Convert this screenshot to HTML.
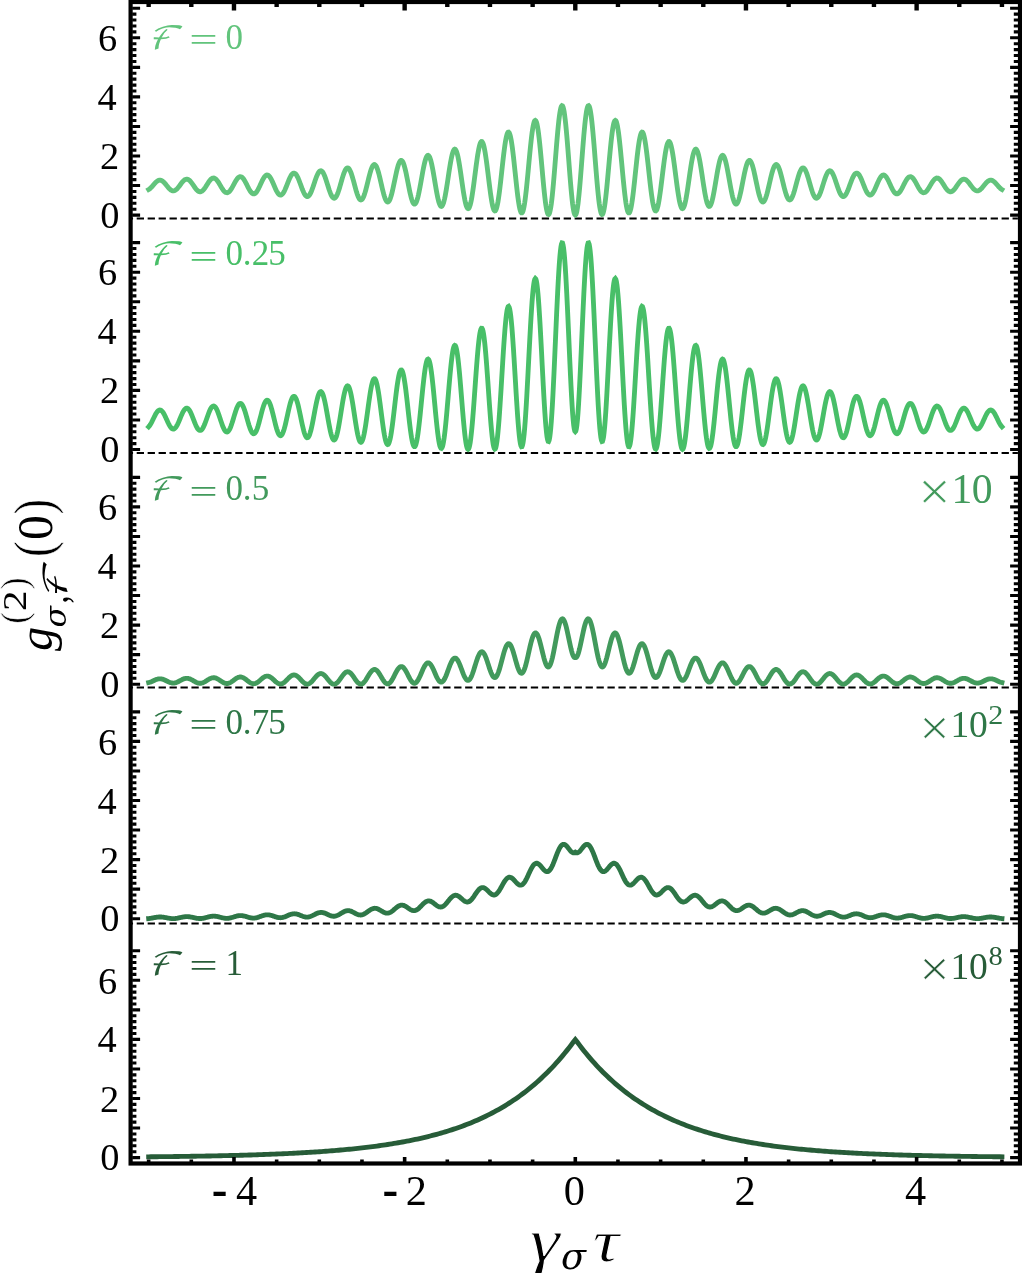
<!DOCTYPE html>
<html><head><meta charset="utf-8"><title>g2 correlations</title>
<style>html,body{margin:0;padding:0;background:#fff}svg{display:block}</style></head>
<body>
<svg width="1022" height="1273" viewBox="0 0 1022 1273">
<rect width="1022" height="1273" fill="#fff"/>
<line x1="129.4" y1="218.5" x2="1017.9" y2="218.5" stroke="#000" stroke-width="2" stroke-dasharray="7.3 3.648" stroke-dashoffset="3.648"/>
<line x1="129.4" y1="453.1" x2="1017.9" y2="453.1" stroke="#000" stroke-width="2" stroke-dasharray="7.3 3.648" stroke-dashoffset="3.648"/>
<line x1="129.4" y1="687.55" x2="1017.9" y2="687.55" stroke="#000" stroke-width="2" stroke-dasharray="7.3 3.648" stroke-dashoffset="3.648"/>
<line x1="129.4" y1="923.4" x2="1017.9" y2="923.4" stroke="#000" stroke-width="2" stroke-dasharray="7.3 3.648" stroke-dashoffset="3.648"/>
<polyline fill="none" stroke="#62c47c" stroke-width="4.85" stroke-linejoin="miter" stroke-linecap="square" points="148.65,189.53 149.18,189.21 149.72,188.82 150.25,188.37 150.78,187.87 151.32,187.33 151.85,186.76 152.38,186.16 152.92,185.54 153.45,184.91 153.98,184.29 154.52,183.69 155.05,183.10 155.58,182.54 156.12,182.03 156.65,181.56 157.18,181.15 157.72,180.80 158.25,180.53 158.78,180.32 159.32,180.19 159.85,180.14 160.38,180.18 160.92,180.29 161.45,180.48 161.98,180.75 162.52,181.09 163.05,181.50 163.58,181.98 164.12,182.51 164.65,183.08 165.18,183.70 165.72,184.34 166.25,185.00 166.78,185.67 167.32,186.34 167.85,187.00 168.38,187.64 168.92,188.24 169.45,188.80 169.98,189.31 170.52,189.76 171.05,190.14 171.58,190.45 172.12,190.68 172.65,190.82 173.18,190.89 173.72,190.86 174.25,190.75 174.78,190.55 175.32,190.26 175.85,189.90 176.38,189.46 176.92,188.95 177.45,188.38 177.98,187.76 178.52,187.10 179.05,186.41 179.58,185.69 180.12,184.96 180.65,184.23 181.18,183.51 181.72,182.82 182.25,182.16 182.78,181.54 183.32,180.98 183.85,180.48 184.38,180.05 184.92,179.70 185.45,179.44 185.98,179.27 186.52,179.18 187.05,179.20 187.58,179.30 188.12,179.50 188.65,179.80 189.18,180.17 189.72,180.63 190.25,181.17 190.78,181.77 191.31,182.43 191.85,183.14 192.38,183.88 192.91,184.65 193.45,185.44 193.98,186.22 194.51,187.00 195.05,187.75 195.58,188.46 196.11,189.13 196.65,189.74 197.18,190.29 197.71,190.76 198.25,191.14 198.78,191.44 199.31,191.63 199.85,191.73 200.38,191.73 200.91,191.62 201.45,191.41 201.98,191.11 202.51,190.70 203.05,190.21 203.58,189.64 204.11,188.99 204.65,188.28 205.18,187.52 205.71,186.71 206.25,185.88 206.78,185.03 207.31,184.17 207.85,183.33 208.38,182.51 208.91,181.72 209.45,180.99 209.98,180.31 210.51,179.71 211.05,179.18 211.58,178.75 212.11,178.41 212.65,178.18 213.18,178.05 213.71,178.04 214.25,178.13 214.78,178.34 215.31,178.65 215.85,179.07 216.38,179.58 216.91,180.19 217.45,180.87 217.98,181.62 218.51,182.44 219.05,183.30 219.58,184.19 220.11,185.11 220.65,186.03 221.18,186.94 221.71,187.82 222.25,188.67 222.78,189.47 223.31,190.21 223.85,190.87 224.38,191.44 224.91,191.91 225.45,192.29 225.98,192.55 226.51,192.69 227.05,192.72 227.58,192.63 228.11,192.41 228.65,192.08 229.18,191.64 229.71,191.09 230.25,190.45 230.78,189.71 231.31,188.90 231.85,188.02 232.38,187.09 232.91,186.12 233.45,185.13 233.98,184.13 234.51,183.13 235.05,182.16 235.58,181.23 236.11,180.35 236.65,179.54 237.18,178.81 237.71,178.17 238.25,177.63 238.78,177.21 239.31,176.90 239.85,176.72 240.38,176.67 240.91,176.75 241.45,176.95 241.98,177.28 242.51,177.74 243.05,178.31 243.58,178.99 244.11,179.76 244.65,180.63 245.18,181.56 245.71,182.55 246.25,183.59 246.78,184.65 247.31,185.73 247.85,186.80 248.38,187.84 248.91,188.85 249.45,189.80 249.98,190.68 250.51,191.48 251.05,192.18 251.58,192.76 252.11,193.23 252.65,193.57 253.18,193.78 253.71,193.84 254.25,193.77 254.78,193.56 255.31,193.21 255.85,192.73 256.38,192.12 256.91,191.39 257.45,190.55 257.98,189.63 258.51,188.62 259.05,187.54 259.58,186.42 260.11,185.26 260.65,184.09 261.18,182.92 261.71,181.77 262.25,180.67 262.78,179.62 263.31,178.65 263.85,177.77 264.38,176.99 264.91,176.33 265.45,175.79 265.98,175.40 266.51,175.15 267.05,175.04 267.58,175.09 268.11,175.29 268.65,175.64 269.18,176.14 269.71,176.77 270.25,177.53 270.78,178.41 271.31,179.39 271.85,180.46 272.38,181.61 272.91,182.81 273.45,184.04 273.98,185.30 274.51,186.55 275.05,187.79 275.58,188.98 276.11,190.11 276.64,191.16 277.18,192.12 277.71,192.97 278.24,193.69 278.78,194.27 279.31,194.71 279.84,194.99 280.38,195.11 280.91,195.07 281.44,194.87 281.98,194.50 282.51,193.97 283.04,193.30 283.58,192.48 284.11,191.54 284.64,190.48 285.18,189.32 285.71,188.07 286.24,186.77 286.78,185.42 287.31,184.06 287.84,182.69 288.38,181.34 288.91,180.03 289.44,178.78 289.98,177.62 290.51,176.55 291.04,175.61 291.58,174.80 292.11,174.13 292.64,173.62 293.18,173.28 293.71,173.11 294.24,173.12 294.78,173.31 295.31,173.67 295.84,174.20 296.38,174.90 296.91,175.75 297.44,176.74 297.98,177.86 298.51,179.09 299.04,180.40 299.58,181.79 300.11,183.23 300.64,184.69 301.18,186.16 301.71,187.61 302.24,189.02 302.78,190.36 303.31,191.62 303.84,192.77 304.38,193.80 304.91,194.68 305.44,195.41 305.98,195.97 306.51,196.35 307.04,196.54 307.58,196.54 308.11,196.35 308.64,195.96 309.18,195.40 309.71,194.65 310.24,193.74 310.78,192.67 311.31,191.46 311.84,190.13 312.38,188.70 312.91,187.19 313.44,185.63 313.98,184.03 314.51,182.42 315.04,180.83 315.58,179.28 316.11,177.80 316.64,176.41 317.18,175.13 317.71,173.99 318.24,172.99 318.78,172.16 319.31,171.52 319.84,171.07 320.38,170.81 320.91,170.77 321.44,170.93 321.98,171.30 322.51,171.87 323.04,172.63 323.58,173.58 324.11,174.69 324.64,175.96 325.18,177.36 325.71,178.88 326.24,180.48 326.78,182.15 327.31,183.86 327.84,185.58 328.38,187.28 328.91,188.94 329.44,190.53 329.98,192.03 330.51,193.41 331.04,194.65 331.58,195.73 332.11,196.63 332.64,197.34 333.18,197.83 333.71,198.11 334.24,198.17 334.78,198.01 335.31,197.62 335.84,197.01 336.38,196.19 336.91,195.17 337.44,193.96 337.98,192.59 338.51,191.07 339.04,189.42 339.58,187.68 340.11,185.86 340.64,183.99 341.18,182.11 341.71,180.24 342.24,178.41 342.78,176.65 343.31,174.99 343.84,173.46 344.38,172.07 344.91,170.86 345.44,169.83 345.98,169.02 346.51,168.43 347.04,168.07 347.58,167.95 348.11,168.07 348.64,168.43 349.18,169.04 349.71,169.87 350.24,170.92 350.78,172.17 351.31,173.61 351.84,175.21 352.38,176.95 352.91,178.80 353.44,180.73 353.98,182.72 354.51,184.72 355.04,186.72 355.58,188.68 356.11,190.57 356.64,192.35 357.18,194.00 357.71,195.50 358.24,196.81 358.78,197.92 359.31,198.80 359.84,199.45 360.38,199.84 360.91,199.98 361.44,199.85 361.97,199.46 362.51,198.82 363.04,197.92 363.57,196.78 364.11,195.43 364.64,193.87 365.17,192.13 365.71,190.24 366.24,188.22 366.77,186.11 367.31,183.93 367.84,181.73 368.37,179.53 368.91,177.38 369.44,175.29 369.97,173.31 370.51,171.47 371.04,169.80 371.57,168.32 372.11,167.06 372.64,166.04 373.17,165.27 373.71,164.77 374.24,164.56 374.77,164.62 375.31,164.97 375.84,165.60 376.37,166.50 376.91,167.66 377.44,169.06 377.97,170.69 378.51,172.51 379.04,174.50 379.57,176.63 380.11,178.87 380.64,181.17 381.17,183.52 381.71,185.86 382.24,188.17 382.77,190.40 383.31,192.51 383.84,194.49 384.37,196.29 384.91,197.88 385.44,199.24 385.97,200.34 386.51,201.17 387.04,201.71 387.57,201.95 388.11,201.88 388.64,201.50 389.17,200.82 389.71,199.84 390.24,198.58 390.77,197.06 391.31,195.29 391.84,193.30 392.37,191.13 392.91,188.80 393.44,186.36 393.97,183.83 394.51,181.25 395.04,178.67 395.57,176.13 396.11,173.66 396.64,171.30 397.17,169.10 397.71,167.09 398.24,165.29 398.77,163.74 399.31,162.46 399.84,161.48 400.37,160.81 400.91,160.46 401.44,160.45 401.97,160.77 402.51,161.41 403.04,162.38 403.57,163.66 404.11,165.22 404.64,167.05 405.17,169.12 405.71,171.40 406.24,173.84 406.77,176.43 407.31,179.11 407.84,181.84 408.37,184.58 408.91,187.29 409.44,189.92 409.97,192.44 410.51,194.79 411.04,196.95 411.57,198.88 412.11,200.54 412.64,201.91 413.17,202.96 413.71,203.68 414.24,204.04 414.77,204.05 415.31,203.70 415.84,203.00 416.37,201.94 416.91,200.55 417.44,198.84 417.97,196.84 418.51,194.58 419.04,192.09 419.57,189.40 420.11,186.57 420.64,183.62 421.17,180.62 421.71,177.59 422.24,174.59 422.77,171.67 423.31,168.87 423.84,166.24 424.37,163.81 424.91,161.64 425.44,159.74 425.97,158.15 426.51,156.90 427.04,156.02 427.57,155.51 428.11,155.38 428.64,155.64 429.17,156.29 429.71,157.32 430.24,158.72 430.77,160.45 431.31,162.51 431.84,164.86 432.37,167.46 432.91,170.27 433.44,173.25 433.97,176.35 434.51,179.53 435.04,182.74 435.57,185.92 436.11,189.02 436.64,192.00 437.17,194.80 437.71,197.39 438.24,199.71 438.77,201.74 439.31,203.43 439.84,204.75 440.37,205.69 440.91,206.23 441.44,206.35 441.97,206.04 442.51,205.32 443.04,204.18 443.57,202.65 444.11,200.74 444.64,198.49 445.17,195.91 445.71,193.06 446.24,189.97 446.77,186.69 447.30,183.26 447.84,179.75 448.37,176.21 448.90,172.68 449.44,169.23 449.97,165.90 450.50,162.76 451.04,159.84 451.57,157.21 452.10,154.89 452.64,152.93 453.17,151.35 453.70,150.19 454.24,149.47 454.77,149.20 455.30,149.38 455.84,150.01 456.37,151.09 456.90,152.61 457.44,154.53 457.97,156.83 458.50,159.49 459.04,162.44 459.57,165.67 460.10,169.10 460.64,172.69 461.17,176.39 461.70,180.13 462.24,183.85 462.77,187.51 463.30,191.03 463.84,194.36 464.37,197.46 464.90,200.25 465.44,202.71 465.97,204.79 466.50,206.45 467.04,207.66 467.57,208.41 468.10,208.67 468.64,208.44 469.17,207.72 469.70,206.51 470.24,204.83 470.77,202.70 471.30,200.16 471.84,197.23 472.37,193.96 472.90,190.41 473.44,186.61 473.97,182.64 474.50,178.54 475.04,174.39 475.57,170.24 476.10,166.17 476.64,162.22 477.17,158.47 477.70,154.98 478.24,151.79 478.77,148.97 479.30,146.55 479.84,144.57 480.37,143.08 480.90,142.09 481.44,141.62 481.97,141.68 482.50,142.27 483.04,143.39 483.57,145.02 484.10,147.14 484.64,149.71 485.17,152.70 485.70,156.06 486.24,159.74 486.77,163.69 487.30,167.84 487.84,172.13 488.37,176.49 488.90,180.85 489.44,185.15 489.97,189.31 490.50,193.26 491.04,196.95 491.57,200.31 492.10,203.29 492.64,205.83 493.17,207.90 493.70,209.45 494.24,210.46 494.77,210.91 495.30,210.78 495.84,210.07 496.37,208.80 496.90,206.97 497.44,204.60 497.97,201.74 498.50,198.42 499.04,194.69 499.57,190.60 500.10,186.22 500.64,181.61 501.17,176.83 501.70,171.97 502.24,167.10 502.77,162.29 503.30,157.61 503.84,153.15 504.37,148.96 504.90,145.12 505.44,141.68 505.97,138.71 506.50,136.25 507.04,134.33 507.57,133.00 508.10,132.28 508.64,132.17 509.17,132.69 509.70,133.82 510.24,135.56 510.77,137.87 511.30,140.73 511.84,144.09 512.37,147.91 512.90,152.11 513.44,156.64 513.97,161.43 514.50,166.40 515.04,171.47 515.57,176.57 516.10,181.61 516.64,186.51 517.17,191.20 517.70,195.59 518.24,199.62 518.77,203.21 519.30,206.32 519.84,208.87 520.37,210.84 520.90,212.18 521.44,212.86 521.97,212.88 522.50,212.22 523.04,210.88 523.57,208.90 524.10,206.28 524.64,203.07 525.17,199.30 525.70,195.04 526.24,190.35 526.77,185.29 527.30,179.94 527.84,174.38 528.37,168.70 528.90,162.98 529.44,157.30 529.97,151.77 530.50,146.45 531.04,141.44 531.57,136.82 532.10,132.65 532.63,129.01 533.17,125.94 533.70,123.51 534.23,121.76 534.77,120.70 535.30,120.36 535.83,120.76 536.37,121.88 536.90,123.71 537.43,126.23 537.97,129.39 538.50,133.15 539.03,137.46 539.57,142.25 540.10,147.44 540.63,152.95 541.17,158.70 541.70,164.60 542.23,170.55 542.77,176.45 543.30,182.22 543.83,187.76 544.37,192.99 544.90,197.80 545.43,202.13 545.97,205.90 546.50,209.05 547.03,211.51 547.57,213.26 548.10,214.25 548.63,214.45 549.17,213.87 549.70,212.50 550.23,210.36 550.77,207.47 551.30,203.87 551.83,199.61 552.37,194.75 552.90,189.36 553.43,183.53 553.97,177.33 554.50,170.86 555.03,164.22 555.57,157.51 556.10,150.82 556.63,144.27 557.17,137.95 557.70,131.96 558.23,126.40 558.77,121.35 559.30,116.90 559.83,113.10 560.37,110.04 560.90,107.74 561.43,106.26 561.97,105.62 562.50,105.84 563.03,106.90 563.57,108.80 564.10,111.51 564.63,114.99 565.17,119.19 565.70,124.05 566.23,129.49 566.77,135.42 567.30,141.75 567.83,148.39 568.37,155.23 568.90,162.16 569.43,169.07 569.97,175.85 570.50,182.39 571.03,188.58 571.57,194.33 572.10,199.53 572.63,204.09 573.17,207.95 573.70,211.03 574.23,213.27 574.77,214.64 575.30,215.10 575.83,214.64 576.37,213.27 576.90,211.03 577.43,207.95 577.97,204.09 578.50,199.53 579.03,194.33 579.57,188.58 580.10,182.39 580.63,175.85 581.17,169.07 581.70,162.16 582.23,155.23 582.77,148.39 583.30,141.75 583.83,135.42 584.37,129.49 584.90,124.05 585.43,119.19 585.97,114.99 586.50,111.51 587.03,108.80 587.57,106.90 588.10,105.84 588.63,105.62 589.17,106.26 589.70,107.74 590.23,110.04 590.77,113.10 591.30,116.90 591.83,121.35 592.37,126.40 592.90,131.96 593.43,137.95 593.97,144.27 594.50,150.82 595.03,157.51 595.57,164.22 596.10,170.86 596.63,177.33 597.17,183.53 597.70,189.36 598.23,194.75 598.77,199.61 599.30,203.87 599.83,207.47 600.37,210.36 600.90,212.50 601.43,213.87 601.97,214.45 602.50,214.25 603.03,213.26 603.57,211.51 604.10,209.05 604.63,205.90 605.17,202.13 605.70,197.80 606.23,192.99 606.77,187.76 607.30,182.22 607.83,176.45 608.37,170.55 608.90,164.60 609.43,158.70 609.97,152.95 610.50,147.44 611.03,142.25 611.57,137.46 612.10,133.15 612.63,129.39 613.17,126.23 613.70,123.71 614.23,121.88 614.77,120.76 615.30,120.36 615.83,120.70 616.37,121.76 616.90,123.51 617.43,125.94 617.96,129.01 618.50,132.65 619.03,136.82 619.56,141.44 620.10,146.45 620.63,151.77 621.16,157.30 621.70,162.98 622.23,168.70 622.76,174.38 623.30,179.94 623.83,185.29 624.36,190.35 624.90,195.04 625.43,199.30 625.96,203.07 626.50,206.28 627.03,208.90 627.56,210.88 628.10,212.22 628.63,212.88 629.16,212.86 629.70,212.18 630.23,210.84 630.76,208.87 631.30,206.32 631.83,203.21 632.36,199.62 632.90,195.59 633.43,191.20 633.96,186.51 634.50,181.61 635.03,176.57 635.56,171.47 636.10,166.40 636.63,161.43 637.16,156.64 637.70,152.11 638.23,147.91 638.76,144.09 639.30,140.73 639.83,137.87 640.36,135.56 640.90,133.82 641.43,132.69 641.96,132.17 642.50,132.28 643.03,133.00 643.56,134.33 644.10,136.25 644.63,138.71 645.16,141.68 645.70,145.12 646.23,148.96 646.76,153.15 647.30,157.61 647.83,162.29 648.36,167.10 648.90,171.97 649.43,176.83 649.96,181.61 650.50,186.22 651.03,190.60 651.56,194.69 652.10,198.42 652.63,201.74 653.16,204.60 653.70,206.97 654.23,208.80 654.76,210.07 655.30,210.78 655.83,210.91 656.36,210.46 656.90,209.45 657.43,207.90 657.96,205.83 658.50,203.29 659.03,200.31 659.56,196.95 660.10,193.26 660.63,189.31 661.16,185.15 661.70,180.85 662.23,176.49 662.76,172.13 663.30,167.84 663.83,163.69 664.36,159.74 664.90,156.06 665.43,152.70 665.96,149.71 666.50,147.14 667.03,145.02 667.56,143.39 668.10,142.27 668.63,141.68 669.16,141.62 669.70,142.09 670.23,143.08 670.76,144.57 671.30,146.55 671.83,148.97 672.36,151.79 672.90,154.98 673.43,158.47 673.96,162.22 674.50,166.17 675.03,170.24 675.56,174.39 676.10,178.54 676.63,182.64 677.16,186.61 677.70,190.41 678.23,193.96 678.76,197.23 679.30,200.16 679.83,202.70 680.36,204.83 680.90,206.51 681.43,207.72 681.96,208.44 682.50,208.67 683.03,208.41 683.56,207.66 684.10,206.45 684.63,204.79 685.16,202.71 685.70,200.25 686.23,197.46 686.76,194.36 687.30,191.03 687.83,187.51 688.36,183.85 688.90,180.13 689.43,176.39 689.96,172.69 690.50,169.10 691.03,165.67 691.56,162.44 692.10,159.49 692.63,156.83 693.16,154.53 693.70,152.61 694.23,151.09 694.76,150.01 695.30,149.38 695.83,149.20 696.36,149.47 696.90,150.19 697.43,151.35 697.96,152.93 698.50,154.89 699.03,157.21 699.56,159.84 700.10,162.76 700.63,165.90 701.16,169.23 701.70,172.68 702.23,176.21 702.76,179.75 703.29,183.26 703.83,186.69 704.36,189.97 704.89,193.06 705.43,195.91 705.96,198.49 706.49,200.74 707.03,202.65 707.56,204.18 708.09,205.32 708.63,206.04 709.16,206.35 709.69,206.23 710.23,205.69 710.76,204.75 711.29,203.43 711.83,201.74 712.36,199.71 712.89,197.39 713.43,194.80 713.96,192.00 714.49,189.02 715.03,185.92 715.56,182.74 716.09,179.53 716.63,176.35 717.16,173.25 717.69,170.27 718.23,167.46 718.76,164.86 719.29,162.51 719.83,160.45 720.36,158.72 720.89,157.32 721.43,156.29 721.96,155.64 722.49,155.38 723.03,155.51 723.56,156.02 724.09,156.90 724.63,158.15 725.16,159.74 725.69,161.64 726.23,163.81 726.76,166.24 727.29,168.87 727.83,171.67 728.36,174.59 728.89,177.59 729.43,180.62 729.96,183.62 730.49,186.57 731.03,189.40 731.56,192.09 732.09,194.58 732.63,196.84 733.16,198.84 733.69,200.55 734.23,201.94 734.76,203.00 735.29,203.70 735.83,204.05 736.36,204.04 736.89,203.68 737.43,202.96 737.96,201.91 738.49,200.54 739.03,198.88 739.56,196.95 740.09,194.79 740.63,192.44 741.16,189.92 741.69,187.29 742.23,184.58 742.76,181.84 743.29,179.11 743.83,176.43 744.36,173.84 744.89,171.40 745.43,169.12 745.96,167.05 746.49,165.22 747.03,163.66 747.56,162.38 748.09,161.41 748.63,160.77 749.16,160.45 749.69,160.46 750.23,160.81 750.76,161.48 751.29,162.46 751.83,163.74 752.36,165.29 752.89,167.09 753.43,169.10 753.96,171.30 754.49,173.66 755.03,176.13 755.56,178.67 756.09,181.25 756.63,183.83 757.16,186.36 757.69,188.80 758.23,191.13 758.76,193.30 759.29,195.29 759.83,197.06 760.36,198.58 760.89,199.84 761.43,200.82 761.96,201.50 762.49,201.88 763.03,201.95 763.56,201.71 764.09,201.17 764.63,200.34 765.16,199.24 765.69,197.88 766.23,196.29 766.76,194.49 767.29,192.51 767.83,190.40 768.36,188.17 768.89,185.86 769.43,183.52 769.96,181.17 770.49,178.87 771.03,176.63 771.56,174.50 772.09,172.51 772.63,170.69 773.16,169.06 773.69,167.66 774.23,166.50 774.76,165.60 775.29,164.97 775.83,164.62 776.36,164.56 776.89,164.77 777.43,165.27 777.96,166.04 778.49,167.06 779.03,168.32 779.56,169.80 780.09,171.47 780.63,173.31 781.16,175.29 781.69,177.38 782.23,179.53 782.76,181.73 783.29,183.93 783.83,186.11 784.36,188.22 784.89,190.24 785.43,192.13 785.96,193.87 786.49,195.43 787.03,196.78 787.56,197.92 788.09,198.82 788.62,199.46 789.16,199.85 789.69,199.98 790.22,199.84 790.76,199.45 791.29,198.80 791.82,197.92 792.36,196.81 792.89,195.50 793.42,194.00 793.96,192.35 794.49,190.57 795.02,188.68 795.56,186.72 796.09,184.72 796.62,182.72 797.16,180.73 797.69,178.80 798.22,176.95 798.76,175.21 799.29,173.61 799.82,172.17 800.36,170.92 800.89,169.87 801.42,169.04 801.96,168.43 802.49,168.07 803.02,167.95 803.56,168.07 804.09,168.43 804.62,169.02 805.16,169.83 805.69,170.86 806.22,172.07 806.76,173.46 807.29,174.99 807.82,176.65 808.36,178.41 808.89,180.24 809.42,182.11 809.96,183.99 810.49,185.86 811.02,187.68 811.56,189.42 812.09,191.07 812.62,192.59 813.16,193.96 813.69,195.17 814.22,196.19 814.76,197.01 815.29,197.62 815.82,198.01 816.36,198.17 816.89,198.11 817.42,197.83 817.96,197.34 818.49,196.63 819.02,195.73 819.56,194.65 820.09,193.41 820.62,192.03 821.16,190.53 821.69,188.94 822.22,187.28 822.76,185.58 823.29,183.86 823.82,182.15 824.36,180.48 824.89,178.88 825.42,177.36 825.96,175.96 826.49,174.69 827.02,173.58 827.56,172.63 828.09,171.87 828.62,171.30 829.16,170.93 829.69,170.77 830.22,170.81 830.76,171.07 831.29,171.52 831.82,172.16 832.36,172.99 832.89,173.99 833.42,175.13 833.96,176.41 834.49,177.80 835.02,179.28 835.56,180.83 836.09,182.42 836.62,184.03 837.16,185.63 837.69,187.19 838.22,188.70 838.76,190.13 839.29,191.46 839.82,192.67 840.36,193.74 840.89,194.65 841.42,195.40 841.96,195.96 842.49,196.35 843.02,196.54 843.56,196.54 844.09,196.35 844.62,195.97 845.16,195.41 845.69,194.68 846.22,193.80 846.76,192.77 847.29,191.62 847.82,190.36 848.36,189.02 848.89,187.61 849.42,186.16 849.96,184.69 850.49,183.23 851.02,181.79 851.56,180.40 852.09,179.09 852.62,177.86 853.16,176.74 853.69,175.75 854.22,174.90 854.76,174.20 855.29,173.67 855.82,173.31 856.36,173.12 856.89,173.11 857.42,173.28 857.96,173.62 858.49,174.13 859.02,174.80 859.56,175.61 860.09,176.55 860.62,177.62 861.16,178.78 861.69,180.03 862.22,181.34 862.76,182.69 863.29,184.06 863.82,185.42 864.36,186.77 864.89,188.07 865.42,189.32 865.96,190.48 866.49,191.54 867.02,192.48 867.56,193.30 868.09,193.97 868.62,194.50 869.16,194.87 869.69,195.07 870.22,195.11 870.76,194.99 871.29,194.71 871.82,194.27 872.36,193.69 872.89,192.97 873.42,192.12 873.95,191.16 874.49,190.11 875.02,188.98 875.55,187.79 876.09,186.55 876.62,185.30 877.15,184.04 877.69,182.81 878.22,181.61 878.75,180.46 879.29,179.39 879.82,178.41 880.35,177.53 880.89,176.77 881.42,176.14 881.95,175.64 882.49,175.29 883.02,175.09 883.55,175.04 884.09,175.15 884.62,175.40 885.15,175.79 885.69,176.33 886.22,176.99 886.75,177.77 887.29,178.65 887.82,179.62 888.35,180.67 888.89,181.77 889.42,182.92 889.95,184.09 890.49,185.26 891.02,186.42 891.55,187.54 892.09,188.62 892.62,189.63 893.15,190.55 893.69,191.39 894.22,192.12 894.75,192.73 895.29,193.21 895.82,193.56 896.35,193.77 896.89,193.84 897.42,193.78 897.95,193.57 898.49,193.23 899.02,192.76 899.55,192.18 900.09,191.48 900.62,190.68 901.15,189.80 901.69,188.85 902.22,187.84 902.75,186.80 903.29,185.73 903.82,184.65 904.35,183.59 904.89,182.55 905.42,181.56 905.95,180.63 906.49,179.76 907.02,178.99 907.55,178.31 908.09,177.74 908.62,177.28 909.15,176.95 909.69,176.75 910.22,176.67 910.75,176.72 911.29,176.90 911.82,177.21 912.35,177.63 912.89,178.17 913.42,178.81 913.95,179.54 914.49,180.35 915.02,181.23 915.55,182.16 916.09,183.13 916.62,184.13 917.15,185.13 917.69,186.12 918.22,187.09 918.75,188.02 919.29,188.90 919.82,189.71 920.35,190.45 920.89,191.09 921.42,191.64 921.95,192.08 922.49,192.41 923.02,192.63 923.55,192.72 924.09,192.69 924.62,192.55 925.15,192.29 925.69,191.91 926.22,191.44 926.75,190.87 927.29,190.21 927.82,189.47 928.35,188.67 928.89,187.82 929.42,186.94 929.95,186.03 930.49,185.11 931.02,184.19 931.55,183.30 932.09,182.44 932.62,181.62 933.15,180.87 933.69,180.19 934.22,179.58 934.75,179.07 935.29,178.65 935.82,178.34 936.35,178.13 936.89,178.04 937.42,178.05 937.95,178.18 938.49,178.41 939.02,178.75 939.55,179.18 940.09,179.71 940.62,180.31 941.15,180.99 941.69,181.72 942.22,182.51 942.75,183.33 943.29,184.17 943.82,185.03 944.35,185.88 944.89,186.71 945.42,187.52 945.95,188.28 946.49,188.99 947.02,189.64 947.55,190.21 948.09,190.70 948.62,191.11 949.15,191.41 949.69,191.62 950.22,191.73 950.75,191.73 951.29,191.63 951.82,191.44 952.35,191.14 952.89,190.76 953.42,190.29 953.95,189.74 954.49,189.13 955.02,188.46 955.55,187.75 956.09,187.00 956.62,186.22 957.15,185.44 957.69,184.65 958.22,183.88 958.75,183.14 959.28,182.43 959.82,181.77 960.35,181.17 960.88,180.63 961.42,180.17 961.95,179.80 962.48,179.50 963.02,179.30 963.55,179.20 964.08,179.18 964.62,179.27 965.15,179.44 965.68,179.70 966.22,180.05 966.75,180.48 967.28,180.98 967.82,181.54 968.35,182.16 968.88,182.82 969.42,183.51 969.95,184.23 970.48,184.96 971.02,185.69 971.55,186.41 972.08,187.10 972.62,187.76 973.15,188.38 973.68,188.95 974.22,189.46 974.75,189.90 975.28,190.26 975.82,190.55 976.35,190.75 976.88,190.86 977.42,190.89 977.95,190.82 978.48,190.68 979.02,190.45 979.55,190.14 980.08,189.76 980.62,189.31 981.15,188.80 981.68,188.24 982.22,187.64 982.75,187.00 983.28,186.34 983.82,185.67 984.35,185.00 984.88,184.34 985.42,183.70 985.95,183.08 986.48,182.51 987.02,181.98 987.55,181.50 988.08,181.09 988.62,180.75 989.15,180.48 989.68,180.29 990.22,180.18 990.75,180.14 991.28,180.19 991.82,180.32 992.35,180.53 992.88,180.80 993.42,181.15 993.95,181.56 994.48,182.03 995.02,182.54 995.55,183.10 996.08,183.69 996.62,184.29 997.15,184.91 997.68,185.54 998.22,186.16 998.75,186.76 999.28,187.33 999.82,187.87 1000.35,188.37 1000.88,188.82 1001.42,189.21 1001.95,189.53"/>
<polyline fill="none" stroke="#48bf68" stroke-width="4.85" stroke-linejoin="miter" stroke-linecap="square" points="148.65,426.76 149.18,426.17 149.72,425.48 150.25,424.68 150.78,423.79 151.32,422.83 151.85,421.81 152.38,420.74 152.92,419.64 153.45,418.53 153.98,417.42 154.52,416.34 155.05,415.30 155.58,414.31 156.12,413.39 156.65,412.56 157.18,411.83 157.72,411.21 158.25,410.71 158.78,410.34 159.32,410.11 159.85,410.02 160.38,410.08 160.92,410.28 161.45,410.62 161.98,411.10 162.52,411.70 163.05,412.43 163.58,413.27 164.12,414.21 164.65,415.23 165.18,416.32 165.72,417.46 166.25,418.64 166.78,419.83 167.32,421.02 167.85,422.18 168.38,423.31 168.92,424.38 169.45,425.38 169.98,426.28 170.52,427.07 171.05,427.75 171.58,428.30 172.12,428.70 172.65,428.96 173.18,429.07 173.72,429.02 174.25,428.81 174.78,428.46 175.32,427.95 175.85,427.30 176.38,426.52 176.92,425.61 177.45,424.60 177.98,423.50 178.52,422.32 179.05,421.08 179.58,419.80 180.12,418.50 180.65,417.20 181.18,415.92 181.72,414.69 182.25,413.51 182.78,412.41 183.32,411.41 183.85,410.52 184.38,409.76 184.92,409.14 185.45,408.67 185.98,408.35 186.52,408.20 187.05,408.22 187.58,408.41 188.12,408.76 188.65,409.28 189.18,409.95 189.72,410.77 190.25,411.71 190.78,412.78 191.31,413.95 191.85,415.21 192.38,416.53 192.91,417.89 193.45,419.28 193.98,420.68 194.51,422.05 195.05,423.38 195.58,424.65 196.11,425.84 196.65,426.92 197.18,427.89 197.71,428.72 198.25,429.40 198.78,429.92 199.31,430.27 199.85,430.44 200.38,430.43 200.91,430.23 201.45,429.86 201.98,429.31 202.51,428.60 203.05,427.72 203.58,426.70 204.11,425.55 204.65,424.28 205.18,422.92 205.71,421.48 206.25,420.00 206.78,418.48 207.31,416.96 207.85,415.45 208.38,413.99 208.91,412.59 209.45,411.27 209.98,410.07 210.51,408.99 211.05,408.06 211.58,407.28 212.11,406.68 212.65,406.27 213.18,406.04 213.71,406.01 214.25,406.17 214.78,406.53 215.31,407.09 215.85,407.82 216.38,408.73 216.91,409.80 217.45,411.01 217.98,412.35 218.51,413.79 219.05,415.32 219.58,416.90 220.11,418.52 220.65,420.16 221.18,421.77 221.71,423.34 222.25,424.85 222.78,426.26 223.31,427.57 223.85,428.73 224.38,429.75 224.91,430.59 225.45,431.25 225.98,431.71 226.51,431.96 227.05,432.00 227.58,431.83 228.11,431.45 228.65,430.86 229.18,430.07 229.71,429.09 230.25,427.94 230.78,426.63 231.31,425.18 231.85,423.61 232.38,421.95 232.91,420.22 233.45,418.45 233.98,416.67 234.51,414.90 235.05,413.17 235.58,411.51 236.11,409.94 236.65,408.49 237.18,407.19 237.71,406.05 238.25,405.09 238.78,404.33 239.31,403.78 239.85,403.45 240.38,403.36 240.91,403.49 241.45,403.85 241.98,404.43 242.51,405.24 243.05,406.25 243.58,407.45 244.11,408.82 244.65,410.35 245.18,412.00 245.71,413.76 246.25,415.60 246.78,417.49 247.31,419.39 247.85,421.29 248.38,423.14 248.91,424.93 249.45,426.61 249.98,428.17 250.51,429.58 251.05,430.81 251.58,431.85 252.11,432.68 252.65,433.28 253.18,433.64 253.71,433.75 254.25,433.62 254.78,433.23 255.31,432.61 255.85,431.74 256.38,430.65 256.91,429.35 257.45,427.86 257.98,426.20 258.51,424.40 259.05,422.48 259.58,420.48 260.11,418.41 260.65,416.33 261.18,414.24 261.71,412.20 262.25,410.23 262.78,408.36 263.31,406.63 263.85,405.05 264.38,403.66 264.91,402.48 265.45,401.53 265.98,400.81 266.51,400.36 267.05,400.17 267.58,400.25 268.11,400.60 268.65,401.21 269.18,402.09 269.71,403.20 270.25,404.55 270.78,406.10 271.31,407.84 271.85,409.74 272.38,411.76 272.91,413.89 273.45,416.08 273.98,418.31 274.51,420.53 275.05,422.71 275.58,424.82 276.11,426.83 276.64,428.69 277.18,430.39 277.71,431.89 278.24,433.16 278.78,434.19 279.31,434.96 279.84,435.46 280.38,435.66 280.91,435.58 281.44,435.21 281.98,434.54 282.51,433.60 283.04,432.39 283.58,430.93 284.11,429.24 284.64,427.35 285.18,425.28 285.71,423.07 286.24,420.74 286.78,418.34 287.31,415.89 287.84,413.45 288.38,411.04 288.91,408.71 289.44,406.48 289.98,404.41 290.51,402.51 291.04,400.82 291.58,399.36 292.11,398.17 292.64,397.26 293.18,396.64 293.71,396.33 294.24,396.34 294.78,396.66 295.31,397.30 295.84,398.23 296.38,399.46 296.91,400.96 297.44,402.72 297.98,404.69 298.51,406.86 299.04,409.20 299.58,411.65 300.11,414.20 300.64,416.79 301.18,419.40 301.71,421.96 302.24,424.46 302.78,426.83 303.31,429.06 303.84,431.09 304.38,432.91 304.91,434.47 305.44,435.75 305.98,436.73 306.51,437.39 307.04,437.72 307.58,437.71 308.11,437.36 308.64,436.67 309.18,435.65 309.71,434.31 310.24,432.67 310.78,430.76 311.31,428.60 311.84,426.23 312.38,423.68 312.91,420.98 313.44,418.18 313.98,415.33 314.51,412.46 315.04,409.63 315.58,406.86 316.11,404.22 316.64,401.73 317.18,399.45 317.71,397.40 318.24,395.62 318.78,394.13 319.31,392.97 319.84,392.15 320.38,391.69 320.91,391.60 321.44,391.87 321.98,392.51 322.51,393.51 323.04,394.86 323.58,396.53 324.11,398.50 324.64,400.74 325.18,403.22 325.71,405.90 326.24,408.74 326.78,411.69 327.31,414.71 327.84,417.75 328.38,420.76 328.91,423.70 329.44,426.52 329.98,429.17 330.51,431.61 331.04,433.80 331.58,435.70 332.11,437.29 332.64,438.52 333.18,439.39 333.71,439.88 334.24,439.97 334.78,439.66 335.31,438.95 335.84,437.85 336.38,436.38 336.91,434.55 337.44,432.39 337.98,429.93 338.51,427.21 339.04,424.27 339.58,421.15 340.11,417.90 340.64,414.57 341.18,411.21 341.71,407.87 342.24,404.60 342.78,401.46 343.31,398.49 343.84,395.74 344.38,393.26 344.91,391.09 345.44,389.25 345.98,387.78 346.51,386.71 347.04,386.05 347.58,385.82 348.11,386.02 348.64,386.65 349.18,387.71 349.71,389.17 350.24,391.02 350.78,393.23 351.31,395.76 351.84,398.59 352.38,401.66 352.91,404.93 353.44,408.35 353.98,411.86 354.51,415.41 355.04,418.94 355.58,422.41 356.11,425.74 356.64,428.89 357.18,431.81 357.71,434.45 358.24,436.76 358.78,438.71 359.31,440.26 359.84,441.39 360.38,442.07 360.91,442.29 361.44,442.04 361.97,441.33 362.51,440.16 363.04,438.54 363.57,436.50 364.11,434.07 364.64,431.27 365.17,428.16 365.71,424.78 366.24,421.17 366.77,417.39 367.31,413.51 367.84,409.57 368.37,405.64 368.91,401.78 369.44,398.05 369.97,394.52 370.51,391.22 371.04,388.22 371.57,385.57 372.11,383.30 372.64,381.46 373.17,380.07 373.71,379.17 374.24,378.75 374.77,378.85 375.31,379.44 375.84,380.54 376.37,382.11 376.91,384.15 377.44,386.62 377.97,389.48 378.51,392.70 379.04,396.21 379.57,399.97 380.11,403.92 380.64,408.00 381.17,412.14 381.71,416.28 382.24,420.35 382.77,424.28 383.31,428.03 383.84,431.51 384.37,434.68 384.91,437.48 385.44,439.87 385.97,441.80 386.51,443.25 387.04,444.18 387.57,444.57 388.11,444.42 388.64,443.72 389.17,442.48 389.71,440.71 390.24,438.45 390.77,435.71 391.31,432.53 391.84,428.98 392.37,425.09 392.91,420.92 393.44,416.53 393.97,412.01 394.51,407.40 395.04,402.78 395.57,398.23 396.11,393.81 396.64,389.59 397.17,385.64 397.71,382.03 398.24,378.80 398.77,376.01 399.31,373.71 399.84,371.93 400.37,370.71 400.91,370.06 401.44,370.00 401.97,370.53 402.51,371.65 403.04,373.33 403.57,375.57 404.11,378.31 404.64,381.53 405.17,385.18 405.71,389.19 406.24,393.51 406.77,398.06 407.31,402.79 407.84,407.61 408.37,412.45 408.91,417.23 409.44,421.87 409.97,426.31 410.51,430.46 411.04,434.26 411.57,437.65 412.11,440.56 412.64,442.96 413.17,444.79 413.71,446.03 414.24,446.64 414.77,446.62 415.31,445.96 415.84,444.66 416.37,442.74 416.91,440.23 417.44,437.15 417.97,433.56 418.51,429.50 419.04,425.03 419.57,420.21 420.11,415.13 420.64,409.86 421.17,404.47 421.71,399.05 422.24,393.68 422.77,388.44 423.31,383.42 423.84,378.70 424.37,374.34 424.91,370.42 425.44,367.00 425.97,364.14 426.51,361.88 427.04,360.26 427.57,359.30 428.11,359.03 428.64,359.46 429.17,360.57 429.71,362.35 430.24,364.78 430.77,367.83 431.31,371.44 431.84,375.56 432.37,380.13 432.91,385.08 433.44,390.33 433.97,395.80 434.51,401.40 435.04,407.05 435.57,412.65 436.11,418.12 436.64,423.37 437.17,428.30 437.71,432.85 438.24,436.93 438.77,440.48 439.31,443.43 439.84,445.74 440.37,447.35 440.91,448.25 441.44,448.41 441.97,447.82 442.51,446.48 443.04,444.41 443.57,441.63 444.11,438.18 444.64,434.11 445.17,429.48 445.71,424.35 446.24,418.80 446.77,412.91 447.30,406.77 447.84,400.47 448.37,394.11 448.90,387.78 449.44,381.58 449.97,375.61 450.50,369.97 451.04,364.73 451.57,359.98 452.10,355.79 452.64,352.25 453.17,349.39 453.70,347.27 454.24,345.92 454.77,345.37 455.30,345.63 455.84,346.70 456.37,348.56 456.90,351.18 457.44,354.54 457.97,358.57 458.50,363.22 459.04,368.41 459.57,374.07 460.10,380.11 460.64,386.43 461.17,392.93 461.70,399.52 462.24,406.08 462.77,412.50 463.30,418.70 463.84,424.55 464.37,429.98 464.90,434.89 465.44,439.19 465.97,442.81 466.50,445.69 467.04,447.78 467.57,449.03 468.10,449.42 468.64,448.94 469.17,447.58 469.70,445.35 470.24,442.29 470.77,438.44 471.30,433.84 471.84,428.56 472.37,422.68 472.90,416.28 473.44,409.46 473.97,402.31 474.50,394.96 475.04,387.49 475.57,380.04 476.10,372.71 476.64,365.62 477.17,358.88 477.70,352.58 478.24,346.84 478.77,341.73 479.30,337.35 479.84,333.76 480.37,331.01 480.90,329.17 481.44,328.25 481.97,328.27 482.50,329.24 483.04,331.14 483.57,333.95 484.10,337.63 484.64,342.11 485.17,347.34 485.70,353.23 486.24,359.68 486.77,366.61 487.30,373.90 487.84,381.43 488.37,389.09 488.90,396.76 489.44,404.30 489.97,411.60 490.50,418.54 491.04,425.00 491.57,430.88 492.10,436.08 492.64,440.50 493.17,444.08 493.70,446.74 494.24,448.43 494.77,449.13 495.30,448.80 495.84,447.45 496.37,445.08 496.90,441.72 497.44,437.42 497.97,432.22 498.50,426.22 499.04,419.48 499.57,412.11 500.10,404.21 500.64,395.90 501.17,387.31 501.70,378.57 502.24,369.79 502.77,361.13 503.30,352.71 503.84,344.66 504.37,337.11 504.90,330.17 505.44,323.95 505.97,318.55 506.50,314.06 507.04,310.54 507.57,308.06 508.10,306.65 508.64,306.34 509.17,307.15 509.70,309.05 510.24,312.02 510.77,316.01 511.30,320.98 511.84,326.83 512.37,333.48 512.90,340.83 513.44,348.77 513.97,357.15 514.50,365.86 515.04,374.76 515.57,383.70 516.10,392.53 516.64,401.12 517.17,409.32 517.70,417.00 518.24,424.03 518.77,430.29 519.30,435.67 519.84,440.08 520.37,443.44 520.90,445.69 521.44,446.77 521.97,446.66 522.50,445.35 523.04,442.84 523.57,439.17 524.10,434.38 524.64,428.52 525.17,421.69 525.70,413.98 526.24,405.49 526.77,396.35 527.30,386.70 527.84,376.67 528.37,366.42 528.90,356.10 529.44,345.87 529.97,335.87 530.50,326.28 531.04,317.22 531.57,308.84 532.10,301.28 532.63,294.65 533.17,289.05 533.70,284.57 534.23,281.29 534.77,279.25 535.30,278.49 535.83,279.04 536.37,280.87 536.90,283.96 537.43,288.27 537.97,293.73 538.50,300.26 539.03,307.75 539.57,316.09 540.10,325.15 540.63,334.78 541.17,344.83 541.70,355.14 542.23,365.54 542.77,375.87 543.30,385.96 543.83,395.63 544.37,404.73 544.90,413.11 545.43,420.63 545.97,427.15 546.50,432.57 547.03,436.77 547.57,439.69 548.10,441.26 548.63,441.44 549.17,440.22 549.70,437.59 550.23,433.59 550.77,428.26 551.30,421.67 551.83,413.90 552.37,405.07 552.90,395.30 553.43,384.73 553.97,373.52 554.50,361.82 555.03,349.81 555.57,337.67 556.10,325.58 556.63,313.73 557.17,302.29 557.70,291.44 558.23,281.35 558.77,272.16 559.30,264.03 559.83,257.07 560.37,251.40 560.90,247.11 561.43,244.27 561.97,242.91 562.50,243.07 563.03,244.74 563.57,247.89 564.10,252.49 564.63,258.46 565.17,265.70 565.70,274.10 566.23,283.54 566.77,293.85 567.30,304.89 567.83,316.46 568.37,328.38 568.90,340.46 569.43,352.51 569.97,364.33 570.50,375.71 571.03,386.48 571.57,396.45 572.10,405.44 572.63,413.32 573.17,419.92 573.70,425.15 574.23,428.88 574.77,431.06 575.30,431.62 575.83,431.06 576.37,428.88 576.90,425.15 577.43,419.92 577.97,413.32 578.50,405.44 579.03,396.45 579.57,386.48 580.10,375.71 580.63,364.33 581.17,352.51 581.70,340.46 582.23,328.38 582.77,316.46 583.30,304.89 583.83,293.85 584.37,283.54 584.90,274.10 585.43,265.70 585.97,258.46 586.50,252.49 587.03,247.89 587.57,244.74 588.10,243.07 588.63,242.91 589.17,244.27 589.70,247.11 590.23,251.40 590.77,257.07 591.30,264.03 591.83,272.16 592.37,281.35 592.90,291.44 593.43,302.29 593.97,313.73 594.50,325.58 595.03,337.67 595.57,349.81 596.10,361.82 596.63,373.52 597.17,384.73 597.70,395.30 598.23,405.07 598.77,413.90 599.30,421.67 599.83,428.26 600.37,433.59 600.90,437.59 601.43,440.22 601.97,441.44 602.50,441.26 603.03,439.69 603.57,436.77 604.10,432.57 604.63,427.15 605.17,420.63 605.70,413.11 606.23,404.73 606.77,395.63 607.30,385.96 607.83,375.87 608.37,365.54 608.90,355.14 609.43,344.83 609.97,334.78 610.50,325.15 611.03,316.09 611.57,307.75 612.10,300.26 612.63,293.73 613.17,288.27 613.70,283.96 614.23,280.87 614.77,279.04 615.30,278.49 615.83,279.25 616.37,281.29 616.90,284.57 617.43,289.05 617.96,294.65 618.50,301.28 619.03,308.84 619.56,317.22 620.10,326.28 620.63,335.87 621.16,345.87 621.70,356.10 622.23,366.42 622.76,376.67 623.30,386.70 623.83,396.35 624.36,405.49 624.90,413.98 625.43,421.69 625.96,428.52 626.50,434.38 627.03,439.17 627.56,442.84 628.10,445.35 628.63,446.66 629.16,446.77 629.70,445.69 630.23,443.44 630.76,440.08 631.30,435.67 631.83,430.29 632.36,424.03 632.90,417.00 633.43,409.32 633.96,401.12 634.50,392.53 635.03,383.70 635.56,374.76 636.10,365.86 636.63,357.15 637.16,348.77 637.70,340.83 638.23,333.48 638.76,326.83 639.30,320.98 639.83,316.01 640.36,312.02 640.90,309.05 641.43,307.15 641.96,306.34 642.50,306.65 643.03,308.06 643.56,310.54 644.10,314.06 644.63,318.55 645.16,323.95 645.70,330.17 646.23,337.11 646.76,344.66 647.30,352.71 647.83,361.13 648.36,369.79 648.90,378.57 649.43,387.31 649.96,395.90 650.50,404.21 651.03,412.11 651.56,419.48 652.10,426.22 652.63,432.22 653.16,437.42 653.70,441.72 654.23,445.08 654.76,447.45 655.30,448.80 655.83,449.13 656.36,448.43 656.90,446.74 657.43,444.08 657.96,440.50 658.50,436.08 659.03,430.88 659.56,425.00 660.10,418.54 660.63,411.60 661.16,404.30 661.70,396.76 662.23,389.09 662.76,381.43 663.30,373.90 663.83,366.61 664.36,359.68 664.90,353.23 665.43,347.34 665.96,342.11 666.50,337.63 667.03,333.95 667.56,331.14 668.10,329.24 668.63,328.27 669.16,328.25 669.70,329.17 670.23,331.01 670.76,333.76 671.30,337.35 671.83,341.73 672.36,346.84 672.90,352.58 673.43,358.88 673.96,365.62 674.50,372.71 675.03,380.04 675.56,387.49 676.10,394.96 676.63,402.31 677.16,409.46 677.70,416.28 678.23,422.68 678.76,428.56 679.30,433.84 679.83,438.44 680.36,442.29 680.90,445.35 681.43,447.58 681.96,448.94 682.50,449.42 683.03,449.03 683.56,447.78 684.10,445.69 684.63,442.81 685.16,439.19 685.70,434.89 686.23,429.98 686.76,424.55 687.30,418.70 687.83,412.50 688.36,406.08 688.90,399.52 689.43,392.93 689.96,386.43 690.50,380.11 691.03,374.07 691.56,368.41 692.10,363.22 692.63,358.57 693.16,354.54 693.70,351.18 694.23,348.56 694.76,346.70 695.30,345.63 695.83,345.37 696.36,345.92 696.90,347.27 697.43,349.39 697.96,352.25 698.50,355.79 699.03,359.98 699.56,364.73 700.10,369.97 700.63,375.61 701.16,381.58 701.70,387.78 702.23,394.11 702.76,400.47 703.29,406.77 703.83,412.91 704.36,418.80 704.89,424.35 705.43,429.48 705.96,434.11 706.49,438.18 707.03,441.63 707.56,444.41 708.09,446.48 708.63,447.82 709.16,448.41 709.69,448.25 710.23,447.35 710.76,445.74 711.29,443.43 711.83,440.48 712.36,436.93 712.89,432.85 713.43,428.30 713.96,423.37 714.49,418.12 715.03,412.65 715.56,407.05 716.09,401.40 716.63,395.80 717.16,390.33 717.69,385.08 718.23,380.13 718.76,375.56 719.29,371.44 719.83,367.83 720.36,364.78 720.89,362.35 721.43,360.57 721.96,359.46 722.49,359.03 723.03,359.30 723.56,360.26 724.09,361.88 724.63,364.14 725.16,367.00 725.69,370.42 726.23,374.34 726.76,378.70 727.29,383.42 727.83,388.44 728.36,393.68 728.89,399.05 729.43,404.47 729.96,409.86 730.49,415.13 731.03,420.21 731.56,425.03 732.09,429.50 732.63,433.56 733.16,437.15 733.69,440.23 734.23,442.74 734.76,444.66 735.29,445.96 735.83,446.62 736.36,446.64 736.89,446.03 737.43,444.79 737.96,442.96 738.49,440.56 739.03,437.65 739.56,434.26 740.09,430.46 740.63,426.31 741.16,421.87 741.69,417.23 742.23,412.45 742.76,407.61 743.29,402.79 743.83,398.06 744.36,393.51 744.89,389.19 745.43,385.18 745.96,381.53 746.49,378.31 747.03,375.57 747.56,373.33 748.09,371.65 748.63,370.53 749.16,370.00 749.69,370.06 750.23,370.71 750.76,371.93 751.29,373.71 751.83,376.01 752.36,378.80 752.89,382.03 753.43,385.64 753.96,389.59 754.49,393.81 755.03,398.23 755.56,402.78 756.09,407.40 756.63,412.01 757.16,416.53 757.69,420.92 758.23,425.09 758.76,428.98 759.29,432.53 759.83,435.71 760.36,438.45 760.89,440.71 761.43,442.48 761.96,443.72 762.49,444.42 763.03,444.57 763.56,444.18 764.09,443.25 764.63,441.80 765.16,439.87 765.69,437.48 766.23,434.68 766.76,431.51 767.29,428.03 767.83,424.28 768.36,420.35 768.89,416.28 769.43,412.14 769.96,408.00 770.49,403.92 771.03,399.97 771.56,396.21 772.09,392.70 772.63,389.48 773.16,386.62 773.69,384.15 774.23,382.11 774.76,380.54 775.29,379.44 775.83,378.85 776.36,378.75 776.89,379.17 777.43,380.07 777.96,381.46 778.49,383.30 779.03,385.57 779.56,388.22 780.09,391.22 780.63,394.52 781.16,398.05 781.69,401.78 782.23,405.64 782.76,409.57 783.29,413.51 783.83,417.39 784.36,421.17 784.89,424.78 785.43,428.16 785.96,431.27 786.49,434.07 787.03,436.50 787.56,438.54 788.09,440.16 788.62,441.33 789.16,442.04 789.69,442.29 790.22,442.07 790.76,441.39 791.29,440.26 791.82,438.71 792.36,436.76 792.89,434.45 793.42,431.81 793.96,428.89 794.49,425.74 795.02,422.41 795.56,418.94 796.09,415.41 796.62,411.86 797.16,408.35 797.69,404.93 798.22,401.66 798.76,398.59 799.29,395.76 799.82,393.23 800.36,391.02 800.89,389.17 801.42,387.71 801.96,386.65 802.49,386.02 803.02,385.82 803.56,386.05 804.09,386.71 804.62,387.78 805.16,389.25 805.69,391.09 806.22,393.26 806.76,395.74 807.29,398.49 807.82,401.46 808.36,404.60 808.89,407.87 809.42,411.21 809.96,414.57 810.49,417.90 811.02,421.15 811.56,424.27 812.09,427.21 812.62,429.93 813.16,432.39 813.69,434.55 814.22,436.38 814.76,437.85 815.29,438.95 815.82,439.66 816.36,439.97 816.89,439.88 817.42,439.39 817.96,438.52 818.49,437.29 819.02,435.70 819.56,433.80 820.09,431.61 820.62,429.17 821.16,426.52 821.69,423.70 822.22,420.76 822.76,417.75 823.29,414.71 823.82,411.69 824.36,408.74 824.89,405.90 825.42,403.22 825.96,400.74 826.49,398.50 827.02,396.53 827.56,394.86 828.09,393.51 828.62,392.51 829.16,391.87 829.69,391.60 830.22,391.69 830.76,392.15 831.29,392.97 831.82,394.13 832.36,395.62 832.89,397.40 833.42,399.45 833.96,401.73 834.49,404.22 835.02,406.86 835.56,409.63 836.09,412.46 836.62,415.33 837.16,418.18 837.69,420.98 838.22,423.68 838.76,426.23 839.29,428.60 839.82,430.76 840.36,432.67 840.89,434.31 841.42,435.65 841.96,436.67 842.49,437.36 843.02,437.71 843.56,437.72 844.09,437.39 844.62,436.73 845.16,435.75 845.69,434.47 846.22,432.91 846.76,431.09 847.29,429.06 847.82,426.83 848.36,424.46 848.89,421.96 849.42,419.40 849.96,416.79 850.49,414.20 851.02,411.65 851.56,409.20 852.09,406.86 852.62,404.69 853.16,402.72 853.69,400.96 854.22,399.46 854.76,398.23 855.29,397.30 855.82,396.66 856.36,396.34 856.89,396.33 857.42,396.64 857.96,397.26 858.49,398.17 859.02,399.36 859.56,400.82 860.09,402.51 860.62,404.41 861.16,406.48 861.69,408.71 862.22,411.04 862.76,413.45 863.29,415.89 863.82,418.34 864.36,420.74 864.89,423.07 865.42,425.28 865.96,427.35 866.49,429.24 867.02,430.93 867.56,432.39 868.09,433.60 868.62,434.54 869.16,435.21 869.69,435.58 870.22,435.66 870.76,435.46 871.29,434.96 871.82,434.19 872.36,433.16 872.89,431.89 873.42,430.39 873.95,428.69 874.49,426.83 875.02,424.82 875.55,422.71 876.09,420.53 876.62,418.31 877.15,416.08 877.69,413.89 878.22,411.76 878.75,409.74 879.29,407.84 879.82,406.10 880.35,404.55 880.89,403.20 881.42,402.09 881.95,401.21 882.49,400.60 883.02,400.25 883.55,400.17 884.09,400.36 884.62,400.81 885.15,401.53 885.69,402.48 886.22,403.66 886.75,405.05 887.29,406.63 887.82,408.36 888.35,410.23 888.89,412.20 889.42,414.24 889.95,416.33 890.49,418.41 891.02,420.48 891.55,422.48 892.09,424.40 892.62,426.20 893.15,427.86 893.69,429.35 894.22,430.65 894.75,431.74 895.29,432.61 895.82,433.23 896.35,433.62 896.89,433.75 897.42,433.64 897.95,433.28 898.49,432.68 899.02,431.85 899.55,430.81 900.09,429.58 900.62,428.17 901.15,426.61 901.69,424.93 902.22,423.14 902.75,421.29 903.29,419.39 903.82,417.49 904.35,415.60 904.89,413.76 905.42,412.00 905.95,410.35 906.49,408.82 907.02,407.45 907.55,406.25 908.09,405.24 908.62,404.43 909.15,403.85 909.69,403.49 910.22,403.36 910.75,403.45 911.29,403.78 911.82,404.33 912.35,405.09 912.89,406.05 913.42,407.19 913.95,408.49 914.49,409.94 915.02,411.51 915.55,413.17 916.09,414.90 916.62,416.67 917.15,418.45 917.69,420.22 918.22,421.95 918.75,423.61 919.29,425.18 919.82,426.63 920.35,427.94 920.89,429.09 921.42,430.07 921.95,430.86 922.49,431.45 923.02,431.83 923.55,432.00 924.09,431.96 924.62,431.71 925.15,431.25 925.69,430.59 926.22,429.75 926.75,428.73 927.29,427.57 927.82,426.26 928.35,424.85 928.89,423.34 929.42,421.77 929.95,420.16 930.49,418.52 931.02,416.90 931.55,415.32 932.09,413.79 932.62,412.35 933.15,411.01 933.69,409.80 934.22,408.73 934.75,407.82 935.29,407.09 935.82,406.53 936.35,406.17 936.89,406.01 937.42,406.04 937.95,406.27 938.49,406.68 939.02,407.28 939.55,408.06 940.09,408.99 940.62,410.07 941.15,411.27 941.69,412.59 942.22,413.99 942.75,415.45 943.29,416.96 943.82,418.48 944.35,420.00 944.89,421.48 945.42,422.92 945.95,424.28 946.49,425.55 947.02,426.70 947.55,427.72 948.09,428.60 948.62,429.31 949.15,429.86 949.69,430.23 950.22,430.43 950.75,430.44 951.29,430.27 951.82,429.92 952.35,429.40 952.89,428.72 953.42,427.89 953.95,426.92 954.49,425.84 955.02,424.65 955.55,423.38 956.09,422.05 956.62,420.68 957.15,419.28 957.69,417.89 958.22,416.53 958.75,415.21 959.28,413.95 959.82,412.78 960.35,411.71 960.88,410.77 961.42,409.95 961.95,409.28 962.48,408.76 963.02,408.41 963.55,408.22 964.08,408.20 964.62,408.35 965.15,408.67 965.68,409.14 966.22,409.76 966.75,410.52 967.28,411.41 967.82,412.41 968.35,413.51 968.88,414.69 969.42,415.92 969.95,417.20 970.48,418.50 971.02,419.80 971.55,421.08 972.08,422.32 972.62,423.50 973.15,424.60 973.68,425.61 974.22,426.52 974.75,427.30 975.28,427.95 975.82,428.46 976.35,428.81 976.88,429.02 977.42,429.07 977.95,428.96 978.48,428.70 979.02,428.30 979.55,427.75 980.08,427.07 980.62,426.28 981.15,425.38 981.68,424.38 982.22,423.31 982.75,422.18 983.28,421.02 983.82,419.83 984.35,418.64 984.88,417.46 985.42,416.32 985.95,415.23 986.48,414.21 987.02,413.27 987.55,412.43 988.08,411.70 988.62,411.10 989.15,410.62 989.68,410.28 990.22,410.08 990.75,410.02 991.28,410.11 991.82,410.34 992.35,410.71 992.88,411.21 993.42,411.83 993.95,412.56 994.48,413.39 995.02,414.31 995.55,415.30 996.08,416.34 996.62,417.42 997.15,418.53 997.68,419.64 998.22,420.74 998.75,421.81 999.28,422.83 999.82,423.79 1000.35,424.68 1000.88,425.48 1001.42,426.17 1001.95,426.76"/>
<polyline fill="none" stroke="#429a5c" stroke-width="4.85" stroke-linejoin="miter" stroke-linecap="square" points="148.65,682.60 149.18,682.47 149.72,682.31 150.25,682.13 150.78,681.93 151.32,681.71 151.85,681.48 152.38,681.24 152.92,680.99 153.45,680.74 153.98,680.49 154.52,680.24 155.05,680.01 155.58,679.78 156.12,679.58 156.65,679.39 157.18,679.22 157.72,679.08 158.25,678.97 158.78,678.88 159.32,678.83 159.85,678.81 160.38,678.82 160.92,678.86 161.45,678.94 161.98,679.05 162.52,679.18 163.05,679.34 163.58,679.53 164.12,679.74 164.65,679.97 165.18,680.21 165.72,680.47 166.25,680.73 166.78,681.00 167.32,681.26 167.85,681.53 168.38,681.78 168.92,682.02 169.45,682.24 169.98,682.44 170.52,682.62 171.05,682.77 171.58,682.89 172.12,682.98 172.65,683.04 173.18,683.06 173.72,683.05 174.25,683.00 174.78,682.92 175.32,682.80 175.85,682.66 176.38,682.48 176.92,682.27 177.45,682.04 177.98,681.79 178.52,681.53 179.05,681.25 179.58,680.96 180.12,680.66 180.65,680.37 181.18,680.08 181.72,679.80 182.25,679.53 182.78,679.29 183.32,679.06 183.85,678.86 184.38,678.68 184.92,678.54 185.45,678.43 185.98,678.36 186.52,678.33 187.05,678.33 187.58,678.37 188.12,678.45 188.65,678.56 189.18,678.71 189.72,678.89 190.25,679.10 190.78,679.34 191.31,679.60 191.85,679.88 192.38,680.18 192.91,680.48 193.45,680.80 193.98,681.11 194.51,681.41 195.05,681.71 195.58,682.00 196.11,682.26 196.65,682.50 197.18,682.72 197.71,682.90 198.25,683.05 198.78,683.17 199.31,683.25 199.85,683.28 200.38,683.28 200.91,683.23 201.45,683.15 201.98,683.02 202.51,682.86 203.05,682.66 203.58,682.43 204.11,682.16 204.65,681.88 205.18,681.57 205.71,681.24 206.25,680.91 206.78,680.56 207.31,680.22 207.85,679.88 208.38,679.55 208.91,679.23 209.45,678.93 209.98,678.66 210.51,678.41 211.05,678.20 211.58,678.03 212.11,677.89 212.65,677.79 213.18,677.74 213.71,677.73 214.25,677.76 214.78,677.84 215.31,677.96 215.85,678.13 216.38,678.33 216.91,678.57 217.45,678.84 217.98,679.14 218.51,679.46 219.05,679.80 219.58,680.15 220.11,680.52 220.65,680.88 221.18,681.24 221.71,681.59 222.25,681.93 222.78,682.24 223.31,682.53 223.85,682.79 224.38,683.02 224.91,683.21 225.45,683.35 225.98,683.45 226.51,683.51 227.05,683.51 227.58,683.47 228.11,683.38 228.65,683.25 229.18,683.07 229.71,682.84 230.25,682.58 230.78,682.28 231.31,681.96 231.85,681.60 232.38,681.22 232.91,680.83 233.45,680.43 233.98,680.03 234.51,679.62 235.05,679.23 235.58,678.86 236.11,678.50 236.65,678.17 237.18,677.87 237.71,677.61 238.25,677.40 238.78,677.22 239.31,677.09 239.85,677.02 240.38,676.99 240.91,677.02 241.45,677.10 241.98,677.23 242.51,677.40 243.05,677.63 243.58,677.89 244.11,678.20 244.65,678.54 245.18,678.91 245.71,679.30 246.25,679.71 246.78,680.13 247.31,680.56 247.85,680.98 248.38,681.39 248.91,681.79 249.45,682.17 249.98,682.51 250.51,682.83 251.05,683.10 251.58,683.33 252.11,683.51 252.65,683.65 253.18,683.72 253.71,683.74 254.25,683.71 254.78,683.62 255.31,683.47 255.85,683.28 256.38,683.03 256.91,682.73 257.45,682.39 257.98,682.01 258.51,681.61 259.05,681.17 259.58,680.71 260.11,680.25 260.65,679.77 261.18,679.30 261.71,678.84 262.25,678.39 262.78,677.96 263.31,677.57 263.85,677.21 264.38,676.89 264.91,676.62 265.45,676.40 265.98,676.24 266.51,676.13 267.05,676.09 267.58,676.10 268.11,676.17 268.65,676.31 269.18,676.50 269.71,676.75 270.25,677.04 270.78,677.39 271.31,677.77 271.85,678.20 272.38,678.65 272.91,679.12 273.45,679.61 273.98,680.11 274.51,680.60 275.05,681.09 275.58,681.56 276.11,682.00 276.64,682.42 277.18,682.80 277.71,683.13 278.24,683.41 278.78,683.64 279.31,683.80 279.84,683.91 280.38,683.95 280.91,683.93 281.44,683.84 281.98,683.68 282.51,683.47 283.04,683.19 283.58,682.86 284.11,682.47 284.64,682.04 285.18,681.57 285.71,681.06 286.24,680.54 286.78,679.99 287.31,679.43 287.84,678.88 288.38,678.33 288.91,677.80 289.44,677.29 289.98,676.82 290.51,676.39 291.04,676.00 291.58,675.67 292.11,675.39 292.64,675.18 293.18,675.04 293.71,674.96 294.24,674.96 294.78,675.02 295.31,675.16 295.84,675.37 296.38,675.64 296.91,675.97 297.44,676.36 297.98,676.79 298.51,677.28 299.04,677.79 299.58,678.34 300.11,678.91 300.64,679.48 301.18,680.06 301.71,680.63 302.24,681.19 302.78,681.72 303.31,682.21 303.84,682.66 304.38,683.06 304.91,683.41 305.44,683.69 305.98,683.90 306.51,684.04 307.04,684.11 307.58,684.10 308.11,684.02 308.64,683.85 309.18,683.62 309.71,683.31 310.24,682.93 310.78,682.49 311.31,682.00 311.84,681.46 312.38,680.88 312.91,680.26 313.44,679.63 313.98,678.98 314.51,678.32 315.04,677.68 315.58,677.05 316.11,676.45 316.64,675.88 317.18,675.36 317.71,674.89 318.24,674.48 318.78,674.14 319.31,673.87 319.84,673.68 320.38,673.56 320.91,673.53 321.44,673.59 321.98,673.72 322.51,673.94 323.04,674.23 323.58,674.60 324.11,675.03 324.64,675.53 325.18,676.08 325.71,676.67 326.24,677.30 326.78,677.96 327.31,678.63 327.84,679.30 328.38,679.97 328.91,680.63 329.44,681.25 329.98,681.84 330.51,682.38 331.04,682.86 331.58,683.28 332.11,683.63 332.64,683.90 333.18,684.08 333.71,684.18 334.24,684.19 334.78,684.11 335.31,683.94 335.84,683.69 336.38,683.34 336.91,682.92 337.44,682.43 337.98,681.86 338.51,681.24 339.04,680.57 339.58,679.86 340.11,679.11 340.64,678.35 341.18,677.59 341.71,676.83 342.24,676.08 342.78,675.36 343.31,674.68 343.84,674.06 344.38,673.49 344.91,672.99 345.44,672.56 345.98,672.22 346.51,671.97 347.04,671.81 347.58,671.74 348.11,671.78 348.64,671.91 349.18,672.13 349.71,672.45 350.24,672.86 350.78,673.34 351.31,673.90 351.84,674.52 352.38,675.20 352.91,675.93 353.44,676.68 353.98,677.46 354.51,678.25 355.04,679.03 355.58,679.80 356.11,680.53 356.64,681.23 357.18,681.88 357.71,682.46 358.24,682.96 358.78,683.39 359.31,683.73 359.84,683.97 360.38,684.11 360.91,684.14 361.44,684.07 361.97,683.90 362.51,683.62 363.04,683.25 363.57,682.77 364.11,682.21 364.64,681.57 365.17,680.85 365.71,680.08 366.24,679.25 366.77,678.39 367.31,677.50 367.84,676.60 368.37,675.70 368.91,674.82 369.44,673.97 369.97,673.15 370.51,672.40 371.04,671.71 371.57,671.10 372.11,670.57 372.64,670.14 373.17,669.81 373.71,669.59 374.24,669.49 374.77,669.49 375.31,669.61 375.84,669.84 376.37,670.18 376.91,670.62 377.44,671.16 377.97,671.79 378.51,672.50 379.04,673.27 379.57,674.10 380.11,674.97 380.64,675.87 381.17,676.79 381.71,677.70 382.24,678.60 382.77,679.47 383.31,680.29 383.84,681.06 384.37,681.76 384.91,682.37 385.44,682.89 385.97,683.31 386.51,683.61 387.04,683.80 387.57,683.87 388.11,683.82 388.64,683.65 389.17,683.35 389.71,682.93 390.24,682.40 390.77,681.77 391.31,681.04 391.84,680.22 392.37,679.32 392.91,678.36 393.44,677.36 393.97,676.32 394.51,675.26 395.04,674.21 395.57,673.16 396.11,672.15 396.64,671.18 397.17,670.27 397.71,669.43 398.24,668.69 398.77,668.04 399.31,667.50 399.84,667.08 400.37,666.78 400.91,666.62 401.44,666.58 401.97,666.68 402.51,666.91 403.04,667.27 403.57,667.75 404.11,668.34 404.64,669.05 405.17,669.84 405.71,670.72 406.24,671.67 406.77,672.68 407.31,673.72 407.84,674.78 408.37,675.84 408.91,676.90 409.44,677.92 409.97,678.89 410.51,679.80 411.04,680.63 411.57,681.37 412.11,682.00 412.64,682.52 413.17,682.91 413.71,683.16 414.24,683.27 414.77,683.24 415.31,683.07 415.84,682.75 416.37,682.29 416.91,681.70 417.44,680.99 417.97,680.15 418.51,679.21 419.04,678.18 419.57,677.07 420.11,675.90 420.64,674.69 421.17,673.45 421.71,672.20 422.24,670.96 422.77,669.76 423.31,668.60 423.84,667.51 424.37,666.50 424.91,665.59 425.44,664.80 425.97,664.12 426.51,663.59 427.04,663.19 427.57,662.95 428.11,662.86 428.64,662.92 429.17,663.14 429.71,663.52 430.24,664.03 430.77,664.69 431.31,665.47 431.84,666.37 432.37,667.37 432.91,668.45 433.44,669.60 433.97,670.80 434.51,672.03 435.04,673.27 435.57,674.50 436.11,675.69 436.64,676.84 437.17,677.92 437.71,678.91 438.24,679.80 438.77,680.56 439.31,681.19 439.84,681.68 440.37,682.01 440.91,682.18 441.44,682.18 441.97,682.01 442.51,681.67 443.04,681.17 443.57,680.51 444.11,679.70 444.64,678.75 445.17,677.67 445.71,676.48 446.24,675.20 446.77,673.84 447.30,672.42 447.84,670.96 448.37,669.50 448.90,668.03 449.44,666.60 449.97,665.22 450.50,663.91 451.04,662.70 451.57,661.59 452.10,660.61 452.64,659.77 453.17,659.09 453.70,658.57 454.24,658.23 454.77,658.07 455.30,658.09 455.84,658.29 456.37,658.66 456.90,659.21 457.44,659.93 457.97,660.79 458.50,661.80 459.04,662.92 459.57,664.16 460.10,665.47 460.64,666.85 461.17,668.27 461.70,669.71 462.24,671.14 462.77,672.54 463.30,673.89 463.84,675.17 464.37,676.34 464.90,677.40 465.44,678.32 465.97,679.09 466.50,679.70 467.04,680.12 467.57,680.36 468.10,680.40 468.64,680.24 469.17,679.89 469.70,679.34 470.24,678.60 470.77,677.69 471.30,676.61 471.84,675.37 472.37,674.00 472.90,672.51 473.44,670.92 473.97,669.27 474.50,667.56 475.04,665.83 475.57,664.10 476.10,662.40 476.64,660.76 477.17,659.19 477.70,657.72 478.24,656.37 478.77,655.17 479.30,654.13 479.84,653.27 480.37,652.60 480.90,652.13 481.44,651.87 481.97,651.82 482.50,651.98 483.04,652.35 483.57,652.93 484.10,653.70 484.64,654.65 485.17,655.77 485.70,657.04 486.24,658.44 486.77,659.94 487.30,661.52 487.84,663.15 488.37,664.82 488.90,666.48 489.44,668.12 489.97,669.70 490.50,671.20 491.04,672.60 491.57,673.86 492.10,674.97 492.64,675.90 493.17,676.64 493.70,677.18 494.24,677.50 494.77,677.59 495.30,677.45 495.84,677.08 496.37,676.48 496.90,675.66 497.44,674.63 497.97,673.39 498.50,671.98 499.04,670.39 499.57,668.67 500.10,666.82 500.64,664.89 501.17,662.88 501.70,660.85 502.24,658.80 502.77,656.78 503.30,654.82 503.84,652.94 504.37,651.17 504.90,649.53 505.44,648.06 505.97,646.77 506.50,645.69 507.04,644.83 507.57,644.19 508.10,643.80 508.64,643.66 509.17,643.76 509.70,644.11 510.24,644.71 510.77,645.53 511.30,646.57 511.84,647.81 512.37,649.23 512.90,650.80 513.44,652.51 513.97,654.31 514.50,656.19 515.04,658.11 515.57,660.04 516.10,661.95 516.64,663.80 517.17,665.56 517.70,667.21 518.24,668.71 518.77,670.03 519.30,671.16 519.84,672.06 520.37,672.73 520.90,673.15 521.44,673.31 521.97,673.20 522.50,672.81 523.04,672.16 523.57,671.24 524.10,670.08 524.64,668.67 525.17,667.04 525.70,665.21 526.24,663.21 526.77,661.06 527.30,658.80 527.84,656.45 528.37,654.05 528.90,651.63 529.44,649.23 529.97,646.89 530.50,644.63 531.04,642.49 531.57,640.51 532.10,638.71 532.63,637.12 533.17,635.76 533.70,634.65 534.23,633.81 534.77,633.25 535.30,632.98 535.83,633.00 536.37,633.31 536.90,633.90 537.43,634.76 537.97,635.89 538.50,637.25 539.03,638.83 539.57,640.60 540.10,642.53 540.63,644.58 541.17,646.74 541.70,648.95 542.23,651.18 542.77,653.39 543.30,655.54 543.83,657.61 544.37,659.54 544.90,661.31 545.43,662.89 545.97,664.24 546.50,665.34 547.03,666.17 547.57,666.71 548.10,666.94 548.63,666.86 549.17,666.47 549.70,665.76 550.23,664.73 550.77,663.41 551.30,661.80 551.83,659.93 552.37,657.82 552.90,655.50 553.43,652.99 553.97,650.34 554.50,647.58 555.03,644.75 555.57,641.89 556.10,639.04 556.63,636.24 557.17,633.53 557.70,630.96 558.23,628.55 558.77,626.35 559.30,624.39 559.83,622.68 560.37,621.27 560.90,620.17 561.43,619.39 561.97,618.94 562.50,618.84 563.03,619.07 563.57,619.64 564.10,620.53 564.63,621.73 565.17,623.21 565.70,624.96 566.23,626.93 566.77,629.11 567.30,631.44 567.83,633.89 568.37,636.42 568.90,638.99 569.43,641.55 569.97,644.05 570.50,646.46 571.03,648.73 571.57,650.81 572.10,652.68 572.63,654.29 573.17,655.62 573.70,656.64 574.23,657.31 574.77,657.64 575.30,657.61 575.83,657.64 576.37,657.31 576.90,656.64 577.43,655.62 577.97,654.29 578.50,652.68 579.03,650.81 579.57,648.73 580.10,646.46 580.63,644.05 581.17,641.55 581.70,638.99 582.23,636.42 582.77,633.89 583.30,631.44 583.83,629.11 584.37,626.93 584.90,624.96 585.43,623.21 585.97,621.73 586.50,620.53 587.03,619.64 587.57,619.07 588.10,618.84 588.63,618.94 589.17,619.39 589.70,620.17 590.23,621.27 590.77,622.68 591.30,624.39 591.83,626.35 592.37,628.55 592.90,630.96 593.43,633.53 593.97,636.24 594.50,639.04 595.03,641.89 595.57,644.75 596.10,647.58 596.63,650.34 597.17,652.99 597.70,655.50 598.23,657.82 598.77,659.93 599.30,661.80 599.83,663.41 600.37,664.73 600.90,665.76 601.43,666.47 601.97,666.86 602.50,666.94 603.03,666.71 603.57,666.17 604.10,665.34 604.63,664.24 605.17,662.89 605.70,661.31 606.23,659.54 606.77,657.61 607.30,655.54 607.83,653.39 608.37,651.18 608.90,648.95 609.43,646.74 609.97,644.58 610.50,642.53 611.03,640.60 611.57,638.83 612.10,637.25 612.63,635.89 613.17,634.76 613.70,633.90 614.23,633.31 614.77,633.00 615.30,632.98 615.83,633.25 616.37,633.81 616.90,634.65 617.43,635.76 617.96,637.12 618.50,638.71 619.03,640.51 619.56,642.49 620.10,644.63 620.63,646.89 621.16,649.23 621.70,651.63 622.23,654.05 622.76,656.45 623.30,658.80 623.83,661.06 624.36,663.21 624.90,665.21 625.43,667.04 625.96,668.67 626.50,670.08 627.03,671.24 627.56,672.16 628.10,672.81 628.63,673.20 629.16,673.31 629.70,673.15 630.23,672.73 630.76,672.06 631.30,671.16 631.83,670.03 632.36,668.71 632.90,667.21 633.43,665.56 633.96,663.80 634.50,661.95 635.03,660.04 635.56,658.11 636.10,656.19 636.63,654.31 637.16,652.51 637.70,650.80 638.23,649.23 638.76,647.81 639.30,646.57 639.83,645.53 640.36,644.71 640.90,644.11 641.43,643.76 641.96,643.66 642.50,643.80 643.03,644.19 643.56,644.83 644.10,645.69 644.63,646.77 645.16,648.06 645.70,649.53 646.23,651.17 646.76,652.94 647.30,654.82 647.83,656.78 648.36,658.80 648.90,660.85 649.43,662.88 649.96,664.89 650.50,666.82 651.03,668.67 651.56,670.39 652.10,671.98 652.63,673.39 653.16,674.63 653.70,675.66 654.23,676.48 654.76,677.08 655.30,677.45 655.83,677.59 656.36,677.50 656.90,677.18 657.43,676.64 657.96,675.90 658.50,674.97 659.03,673.86 659.56,672.60 660.10,671.20 660.63,669.70 661.16,668.12 661.70,666.48 662.23,664.82 662.76,663.15 663.30,661.52 663.83,659.94 664.36,658.44 664.90,657.04 665.43,655.77 665.96,654.65 666.50,653.70 667.03,652.93 667.56,652.35 668.10,651.98 668.63,651.82 669.16,651.87 669.70,652.13 670.23,652.60 670.76,653.27 671.30,654.13 671.83,655.17 672.36,656.37 672.90,657.72 673.43,659.19 673.96,660.76 674.50,662.40 675.03,664.10 675.56,665.83 676.10,667.56 676.63,669.27 677.16,670.92 677.70,672.51 678.23,674.00 678.76,675.37 679.30,676.61 679.83,677.69 680.36,678.60 680.90,679.34 681.43,679.89 681.96,680.24 682.50,680.40 683.03,680.36 683.56,680.12 684.10,679.70 684.63,679.09 685.16,678.32 685.70,677.40 686.23,676.34 686.76,675.17 687.30,673.89 687.83,672.54 688.36,671.14 688.90,669.71 689.43,668.27 689.96,666.85 690.50,665.47 691.03,664.16 691.56,662.92 692.10,661.80 692.63,660.79 693.16,659.93 693.70,659.21 694.23,658.66 694.76,658.29 695.30,658.09 695.83,658.07 696.36,658.23 696.90,658.57 697.43,659.09 697.96,659.77 698.50,660.61 699.03,661.59 699.56,662.70 700.10,663.91 700.63,665.22 701.16,666.60 701.70,668.03 702.23,669.50 702.76,670.96 703.29,672.42 703.83,673.84 704.36,675.20 704.89,676.48 705.43,677.67 705.96,678.75 706.49,679.70 707.03,680.51 707.56,681.17 708.09,681.67 708.63,682.01 709.16,682.18 709.69,682.18 710.23,682.01 710.76,681.68 711.29,681.19 711.83,680.56 712.36,679.80 712.89,678.91 713.43,677.92 713.96,676.84 714.49,675.69 715.03,674.50 715.56,673.27 716.09,672.03 716.63,670.80 717.16,669.60 717.69,668.45 718.23,667.37 718.76,666.37 719.29,665.47 719.83,664.69 720.36,664.03 720.89,663.52 721.43,663.14 721.96,662.92 722.49,662.86 723.03,662.95 723.56,663.19 724.09,663.59 724.63,664.12 725.16,664.80 725.69,665.59 726.23,666.50 726.76,667.51 727.29,668.60 727.83,669.76 728.36,670.96 728.89,672.20 729.43,673.45 729.96,674.69 730.49,675.90 731.03,677.07 731.56,678.18 732.09,679.21 732.63,680.15 733.16,680.99 733.69,681.70 734.23,682.29 734.76,682.75 735.29,683.07 735.83,683.24 736.36,683.27 736.89,683.16 737.43,682.91 737.96,682.52 738.49,682.00 739.03,681.37 739.56,680.63 740.09,679.80 740.63,678.89 741.16,677.92 741.69,676.90 742.23,675.84 742.76,674.78 743.29,673.72 743.83,672.68 744.36,671.67 744.89,670.72 745.43,669.84 745.96,669.05 746.49,668.34 747.03,667.75 747.56,667.27 748.09,666.91 748.63,666.68 749.16,666.58 749.69,666.62 750.23,666.78 750.76,667.08 751.29,667.50 751.83,668.04 752.36,668.69 752.89,669.43 753.43,670.27 753.96,671.18 754.49,672.15 755.03,673.16 755.56,674.21 756.09,675.26 756.63,676.32 757.16,677.36 757.69,678.36 758.23,679.32 758.76,680.22 759.29,681.04 759.83,681.77 760.36,682.40 760.89,682.93 761.43,683.35 761.96,683.65 762.49,683.82 763.03,683.87 763.56,683.80 764.09,683.61 764.63,683.31 765.16,682.89 765.69,682.37 766.23,681.76 766.76,681.06 767.29,680.29 767.83,679.47 768.36,678.60 768.89,677.70 769.43,676.79 769.96,675.87 770.49,674.97 771.03,674.10 771.56,673.27 772.09,672.50 772.63,671.79 773.16,671.16 773.69,670.62 774.23,670.18 774.76,669.84 775.29,669.61 775.83,669.49 776.36,669.49 776.89,669.59 777.43,669.81 777.96,670.14 778.49,670.57 779.03,671.10 779.56,671.71 780.09,672.40 780.63,673.15 781.16,673.97 781.69,674.82 782.23,675.70 782.76,676.60 783.29,677.50 783.83,678.39 784.36,679.25 784.89,680.08 785.43,680.85 785.96,681.57 786.49,682.21 787.03,682.77 787.56,683.25 788.09,683.62 788.62,683.90 789.16,684.07 789.69,684.14 790.22,684.11 790.76,683.97 791.29,683.73 791.82,683.39 792.36,682.96 792.89,682.46 793.42,681.88 793.96,681.23 794.49,680.53 795.02,679.80 795.56,679.03 796.09,678.25 796.62,677.46 797.16,676.68 797.69,675.93 798.22,675.20 798.76,674.52 799.29,673.90 799.82,673.34 800.36,672.86 800.89,672.45 801.42,672.13 801.96,671.91 802.49,671.78 803.02,671.74 803.56,671.81 804.09,671.97 804.62,672.22 805.16,672.56 805.69,672.99 806.22,673.49 806.76,674.06 807.29,674.68 807.82,675.36 808.36,676.08 808.89,676.83 809.42,677.59 809.96,678.35 810.49,679.11 811.02,679.86 811.56,680.57 812.09,681.24 812.62,681.86 813.16,682.43 813.69,682.92 814.22,683.34 814.76,683.69 815.29,683.94 815.82,684.11 816.36,684.19 816.89,684.18 817.42,684.08 817.96,683.90 818.49,683.63 819.02,683.28 819.56,682.86 820.09,682.38 820.62,681.84 821.16,681.25 821.69,680.63 822.22,679.97 822.76,679.30 823.29,678.63 823.82,677.96 824.36,677.30 824.89,676.67 825.42,676.08 825.96,675.53 826.49,675.03 827.02,674.60 827.56,674.23 828.09,673.94 828.62,673.72 829.16,673.59 829.69,673.53 830.22,673.56 830.76,673.68 831.29,673.87 831.82,674.14 832.36,674.48 832.89,674.89 833.42,675.36 833.96,675.88 834.49,676.45 835.02,677.05 835.56,677.68 836.09,678.32 836.62,678.98 837.16,679.63 837.69,680.26 838.22,680.88 838.76,681.46 839.29,682.00 839.82,682.49 840.36,682.93 840.89,683.31 841.42,683.62 841.96,683.85 842.49,684.02 843.02,684.10 843.56,684.11 844.09,684.04 844.62,683.90 845.16,683.69 845.69,683.41 846.22,683.06 846.76,682.66 847.29,682.21 847.82,681.72 848.36,681.19 848.89,680.63 849.42,680.06 849.96,679.48 850.49,678.91 851.02,678.34 851.56,677.79 852.09,677.28 852.62,676.79 853.16,676.36 853.69,675.97 854.22,675.64 854.76,675.37 855.29,675.16 855.82,675.02 856.36,674.96 856.89,674.96 857.42,675.04 857.96,675.18 858.49,675.39 859.02,675.67 859.56,676.00 860.09,676.39 860.62,676.82 861.16,677.29 861.69,677.80 862.22,678.33 862.76,678.88 863.29,679.43 863.82,679.99 864.36,680.54 864.89,681.06 865.42,681.57 865.96,682.04 866.49,682.47 867.02,682.86 867.56,683.19 868.09,683.47 868.62,683.68 869.16,683.84 869.69,683.93 870.22,683.95 870.76,683.91 871.29,683.80 871.82,683.64 872.36,683.41 872.89,683.13 873.42,682.80 873.95,682.42 874.49,682.00 875.02,681.56 875.55,681.09 876.09,680.60 876.62,680.11 877.15,679.61 877.69,679.12 878.22,678.65 878.75,678.20 879.29,677.77 879.82,677.39 880.35,677.04 880.89,676.75 881.42,676.50 881.95,676.31 882.49,676.17 883.02,676.10 883.55,676.09 884.09,676.13 884.62,676.24 885.15,676.40 885.69,676.62 886.22,676.89 886.75,677.21 887.29,677.57 887.82,677.96 888.35,678.39 888.89,678.84 889.42,679.30 889.95,679.77 890.49,680.25 891.02,680.71 891.55,681.17 892.09,681.61 892.62,682.01 893.15,682.39 893.69,682.73 894.22,683.03 894.75,683.28 895.29,683.47 895.82,683.62 896.35,683.71 896.89,683.74 897.42,683.72 897.95,683.65 898.49,683.51 899.02,683.33 899.55,683.10 900.09,682.83 900.62,682.51 901.15,682.17 901.69,681.79 902.22,681.39 902.75,680.98 903.29,680.56 903.82,680.13 904.35,679.71 904.89,679.30 905.42,678.91 905.95,678.54 906.49,678.20 907.02,677.89 907.55,677.63 908.09,677.40 908.62,677.23 909.15,677.10 909.69,677.02 910.22,676.99 910.75,677.02 911.29,677.09 911.82,677.22 912.35,677.40 912.89,677.61 913.42,677.87 913.95,678.17 914.49,678.50 915.02,678.86 915.55,679.23 916.09,679.62 916.62,680.03 917.15,680.43 917.69,680.83 918.22,681.22 918.75,681.60 919.29,681.96 919.82,682.28 920.35,682.58 920.89,682.84 921.42,683.07 921.95,683.25 922.49,683.38 923.02,683.47 923.55,683.51 924.09,683.51 924.62,683.45 925.15,683.35 925.69,683.21 926.22,683.02 926.75,682.79 927.29,682.53 927.82,682.24 928.35,681.93 928.89,681.59 929.42,681.24 929.95,680.88 930.49,680.52 931.02,680.15 931.55,679.80 932.09,679.46 932.62,679.14 933.15,678.84 933.69,678.57 934.22,678.33 934.75,678.13 935.29,677.96 935.82,677.84 936.35,677.76 936.89,677.73 937.42,677.74 937.95,677.79 938.49,677.89 939.02,678.03 939.55,678.20 940.09,678.41 940.62,678.66 941.15,678.93 941.69,679.23 942.22,679.55 942.75,679.88 943.29,680.22 943.82,680.56 944.35,680.91 944.89,681.24 945.42,681.57 945.95,681.88 946.49,682.16 947.02,682.43 947.55,682.66 948.09,682.86 948.62,683.02 949.15,683.15 949.69,683.23 950.22,683.28 950.75,683.28 951.29,683.25 951.82,683.17 952.35,683.05 952.89,682.90 953.42,682.72 953.95,682.50 954.49,682.26 955.02,682.00 955.55,681.71 956.09,681.41 956.62,681.11 957.15,680.80 957.69,680.48 958.22,680.18 958.75,679.88 959.28,679.60 959.82,679.34 960.35,679.10 960.88,678.89 961.42,678.71 961.95,678.56 962.48,678.45 963.02,678.37 963.55,678.33 964.08,678.33 964.62,678.36 965.15,678.43 965.68,678.54 966.22,678.68 966.75,678.86 967.28,679.06 967.82,679.29 968.35,679.53 968.88,679.80 969.42,680.08 969.95,680.37 970.48,680.66 971.02,680.96 971.55,681.25 972.08,681.53 972.62,681.79 973.15,682.04 973.68,682.27 974.22,682.48 974.75,682.66 975.28,682.80 975.82,682.92 976.35,683.00 976.88,683.05 977.42,683.06 977.95,683.04 978.48,682.98 979.02,682.89 979.55,682.77 980.08,682.62 980.62,682.44 981.15,682.24 981.68,682.02 982.22,681.78 982.75,681.53 983.28,681.26 983.82,681.00 984.35,680.73 984.88,680.47 985.42,680.21 985.95,679.97 986.48,679.74 987.02,679.53 987.55,679.34 988.08,679.18 988.62,679.05 989.15,678.94 989.68,678.86 990.22,678.82 990.75,678.81 991.28,678.83 991.82,678.88 992.35,678.97 992.88,679.08 993.42,679.22 993.95,679.39 994.48,679.58 995.02,679.78 995.55,680.01 996.08,680.24 996.62,680.49 997.15,680.74 997.68,680.99 998.22,681.24 998.75,681.48 999.28,681.71 999.82,681.93 1000.35,682.13 1000.88,682.31 1001.42,682.47 1001.95,682.60"/>
<polyline fill="none" stroke="#2e7747" stroke-width="4.85" stroke-linejoin="miter" stroke-linecap="square" points="148.65,918.56 149.18,918.51 149.72,918.44 150.25,918.37 150.78,918.29 151.32,918.20 151.85,918.10 152.38,918.00 152.92,917.90 153.45,917.80 153.98,917.69 154.52,917.59 155.05,917.50 155.58,917.41 156.12,917.32 156.65,917.24 157.18,917.17 157.72,917.11 158.25,917.07 158.78,917.03 159.32,917.01 159.85,916.99 160.38,917.00 160.92,917.01 161.45,917.04 161.98,917.08 162.52,917.13 163.05,917.19 163.58,917.26 164.12,917.34 164.65,917.43 165.18,917.53 165.72,917.63 166.25,917.73 166.78,917.83 167.32,917.94 167.85,918.04 168.38,918.14 168.92,918.23 169.45,918.31 169.98,918.39 170.52,918.46 171.05,918.52 171.58,918.56 172.12,918.60 172.65,918.62 173.18,918.62 173.72,918.61 174.25,918.59 174.78,918.55 175.32,918.51 175.85,918.44 176.38,918.37 176.92,918.28 177.45,918.19 177.98,918.08 178.52,917.97 179.05,917.86 179.58,917.74 180.12,917.62 180.65,917.50 181.18,917.38 181.72,917.26 182.25,917.15 182.78,917.05 183.32,916.96 183.85,916.87 184.38,916.80 184.92,916.74 185.45,916.69 185.98,916.66 186.52,916.64 187.05,916.64 187.58,916.65 188.12,916.68 188.65,916.72 189.18,916.78 189.72,916.84 190.25,916.93 190.78,917.02 191.31,917.12 191.85,917.23 192.38,917.34 192.91,917.46 193.45,917.58 193.98,917.70 194.51,917.82 195.05,917.93 195.58,918.04 196.11,918.14 196.65,918.24 197.18,918.32 197.71,918.39 198.25,918.44 198.78,918.49 199.31,918.51 199.85,918.52 200.38,918.52 200.91,918.49 201.45,918.46 201.98,918.40 202.51,918.33 203.05,918.25 203.58,918.15 204.11,918.04 204.65,917.92 205.18,917.79 205.71,917.66 206.25,917.52 206.78,917.38 207.31,917.23 207.85,917.09 208.38,916.96 208.91,916.82 209.45,916.70 209.98,916.59 210.51,916.48 211.05,916.39 211.58,916.32 212.11,916.26 212.65,916.21 213.18,916.19 213.71,916.18 214.25,916.19 214.78,916.21 215.31,916.26 215.85,916.32 216.38,916.39 216.91,916.48 217.45,916.59 217.98,916.70 218.51,916.82 219.05,916.95 219.58,917.09 220.11,917.23 220.65,917.37 221.18,917.51 221.71,917.64 222.25,917.77 222.78,917.89 223.31,918.00 223.85,918.10 224.38,918.19 224.91,918.25 225.45,918.31 225.98,918.34 226.51,918.36 227.05,918.35 227.58,918.33 228.11,918.29 228.65,918.23 229.18,918.15 229.71,918.06 230.25,917.94 230.78,917.82 231.31,917.68 231.85,917.53 232.38,917.38 232.91,917.21 233.45,917.05 233.98,916.88 234.51,916.71 235.05,916.55 235.58,916.39 236.11,916.24 236.65,916.10 237.18,915.98 237.71,915.87 238.25,915.77 238.78,915.70 239.31,915.64 239.85,915.60 240.38,915.58 240.91,915.59 241.45,915.61 241.98,915.66 242.51,915.72 243.05,915.80 243.58,915.90 244.11,916.02 244.65,916.14 245.18,916.28 245.71,916.43 246.25,916.59 246.78,916.75 247.31,916.91 247.85,917.08 248.38,917.23 248.91,917.39 249.45,917.53 249.98,917.66 250.51,917.78 251.05,917.88 251.58,917.96 252.11,918.03 252.65,918.07 253.18,918.09 253.71,918.09 254.25,918.07 254.78,918.03 255.31,917.96 255.85,917.87 256.38,917.77 256.91,917.64 257.45,917.50 257.98,917.34 258.51,917.16 259.05,916.98 259.58,916.79 260.11,916.59 260.65,916.39 261.18,916.20 261.71,916.00 262.25,915.81 262.78,915.64 263.31,915.47 263.85,915.32 264.38,915.18 264.91,915.06 265.45,914.97 265.98,914.89 266.51,914.84 267.05,914.81 267.58,914.81 268.11,914.83 268.65,914.87 269.18,914.94 269.71,915.03 270.25,915.13 270.78,915.26 271.31,915.41 271.85,915.57 272.38,915.74 272.91,915.92 273.45,916.10 273.98,916.29 274.51,916.48 275.05,916.66 275.58,916.84 276.11,917.01 276.64,917.16 277.18,917.30 277.71,917.42 278.24,917.52 278.78,917.60 279.31,917.66 279.84,917.69 280.38,917.70 280.91,917.68 281.44,917.63 281.98,917.56 282.51,917.46 283.04,917.34 283.58,917.19 284.11,917.02 284.64,916.84 285.18,916.64 285.71,916.43 286.24,916.20 286.78,915.97 287.31,915.74 287.84,915.50 288.38,915.27 288.91,915.05 289.44,914.83 289.98,914.63 290.51,914.45 291.04,914.28 291.58,914.13 292.11,914.01 292.64,913.91 293.18,913.84 293.71,913.80 294.24,913.78 294.78,913.80 295.31,913.84 295.84,913.91 296.38,914.00 296.91,914.12 297.44,914.26 297.98,914.42 298.51,914.60 299.04,914.80 299.58,915.00 300.11,915.21 300.64,915.43 301.18,915.65 301.71,915.86 302.24,916.07 302.78,916.27 303.31,916.45 303.84,916.61 304.38,916.76 304.91,916.88 305.44,916.98 305.98,917.05 306.51,917.09 307.04,917.10 307.58,917.09 308.11,917.04 308.64,916.95 309.18,916.84 309.71,916.71 310.24,916.54 310.78,916.35 311.31,916.14 311.84,915.90 312.38,915.65 312.91,915.39 313.44,915.12 313.98,914.84 314.51,914.57 315.04,914.29 315.58,914.02 316.11,913.76 316.64,913.52 317.18,913.29 317.71,913.09 318.24,912.91 318.78,912.75 319.31,912.63 319.84,912.53 320.38,912.47 320.91,912.44 321.44,912.44 321.98,912.48 322.51,912.55 323.04,912.65 323.58,912.78 324.11,912.93 324.64,913.11 325.18,913.31 325.71,913.53 326.24,913.76 326.78,914.01 327.31,914.26 327.84,914.51 328.38,914.75 328.91,915.00 329.44,915.23 329.98,915.44 330.51,915.64 331.04,915.81 331.58,915.96 332.11,916.08 332.64,916.16 333.18,916.22 333.71,916.23 334.24,916.22 334.78,916.17 335.31,916.08 335.84,915.95 336.38,915.79 336.91,915.60 337.44,915.38 337.98,915.14 338.51,914.87 339.04,914.57 339.58,914.27 340.11,913.95 340.64,913.62 341.18,913.29 341.71,912.96 342.24,912.64 342.78,912.33 343.31,912.04 343.84,911.76 344.38,911.51 344.91,911.29 345.44,911.09 345.98,910.93 346.51,910.81 347.04,910.72 347.58,910.67 348.11,910.66 348.64,910.69 349.18,910.75 349.71,910.85 350.24,910.99 350.78,911.16 351.31,911.36 351.84,911.58 352.38,911.83 352.91,912.09 353.44,912.37 353.98,912.65 354.51,912.94 355.04,913.23 355.58,913.50 356.11,913.77 356.64,914.02 357.18,914.25 357.71,914.46 358.24,914.63 358.78,914.78 359.31,914.88 359.84,914.95 360.38,914.98 360.91,914.96 361.44,914.91 361.97,914.81 362.51,914.67 363.04,914.49 363.57,914.27 364.11,914.02 364.64,913.73 365.17,913.41 365.71,913.07 366.24,912.71 366.77,912.34 367.31,911.95 367.84,911.56 368.37,911.17 368.91,910.78 369.44,910.41 369.97,910.05 370.51,909.72 371.04,909.41 371.57,909.13 372.11,908.89 372.64,908.69 373.17,908.52 373.71,908.40 374.24,908.32 374.77,908.29 375.31,908.31 375.84,908.36 376.37,908.47 376.91,908.61 377.44,908.79 377.97,909.00 378.51,909.25 379.04,909.53 379.57,909.82 380.11,910.14 380.64,910.46 381.17,910.79 381.71,911.12 382.24,911.44 382.77,911.75 383.31,912.04 383.84,912.31 384.37,912.55 384.91,912.76 385.44,912.93 385.97,913.06 386.51,913.14 387.04,913.18 387.57,913.17 388.11,913.11 388.64,913.00 389.17,912.84 389.71,912.63 390.24,912.38 390.77,912.09 391.31,911.75 391.84,911.38 392.37,910.98 392.91,910.56 393.44,910.12 393.97,909.66 394.51,909.19 395.04,908.73 395.57,908.27 396.11,907.82 396.64,907.39 397.17,906.98 397.71,906.60 398.24,906.26 398.77,905.95 399.31,905.69 399.84,905.48 400.37,905.32 400.91,905.20 401.44,905.14 401.97,905.14 402.51,905.18 403.04,905.28 403.57,905.42 404.11,905.61 404.64,905.85 405.17,906.12 405.71,906.42 406.24,906.75 406.77,907.10 407.31,907.47 407.84,907.85 408.37,908.22 408.91,908.59 409.44,908.95 409.97,909.29 410.51,909.60 411.04,909.88 411.57,910.13 412.11,910.33 412.64,910.48 413.17,910.58 413.71,910.63 414.24,910.62 414.77,910.56 415.31,910.43 415.84,910.25 416.37,910.01 416.91,909.72 417.44,909.38 417.97,908.99 418.51,908.56 419.04,908.09 419.57,907.59 420.11,907.06 420.64,906.52 421.17,905.97 421.71,905.41 422.24,904.86 422.77,904.31 423.31,903.79 423.84,903.30 424.37,902.83 424.91,902.41 425.44,902.03 425.97,901.70 426.51,901.42 427.04,901.20 427.57,901.04 428.11,900.94 428.64,900.90 429.17,900.93 429.71,901.01 430.24,901.16 430.77,901.35 431.31,901.60 431.84,901.89 432.37,902.23 432.91,902.59 433.44,902.99 433.97,903.40 434.51,903.82 435.04,904.25 435.57,904.67 436.11,905.08 436.64,905.47 437.17,905.83 437.71,906.16 438.24,906.44 438.77,906.68 439.31,906.86 439.84,906.98 440.37,907.04 440.91,907.03 441.44,906.96 441.97,906.82 442.51,906.61 443.04,906.33 443.57,905.99 444.11,905.59 444.64,905.14 445.17,904.63 445.71,904.08 446.24,903.48 446.77,902.86 447.30,902.21 447.84,901.55 448.37,900.89 448.90,900.22 449.44,899.57 449.97,898.93 450.50,898.33 451.04,897.76 451.57,897.23 452.10,896.76 452.64,896.34 453.17,895.98 453.70,895.69 454.24,895.47 454.77,895.32 455.30,895.24 455.84,895.23 456.37,895.29 456.90,895.42 457.44,895.62 457.97,895.88 458.50,896.19 459.04,896.55 459.57,896.95 460.10,897.39 460.64,897.85 461.17,898.32 461.70,898.80 462.24,899.28 462.77,899.75 463.30,900.19 463.84,900.61 464.37,900.98 464.90,901.31 465.44,901.58 465.97,901.79 466.50,901.93 467.04,902.00 467.57,902.00 468.10,901.91 468.64,901.75 469.17,901.50 469.70,901.18 470.24,900.79 470.77,900.32 471.30,899.78 471.84,899.18 472.37,898.52 472.90,897.82 473.44,897.08 473.97,896.31 474.50,895.52 475.04,894.72 475.57,893.92 476.10,893.13 476.64,892.36 477.17,891.62 477.70,890.92 478.24,890.27 478.77,889.67 479.30,889.14 479.84,888.68 480.37,888.30 480.90,887.99 481.44,887.77 481.97,887.63 482.50,887.58 483.04,887.60 483.57,887.71 484.10,887.90 484.64,888.16 485.17,888.49 485.70,888.87 486.24,889.30 486.77,889.78 487.30,890.28 487.84,890.81 488.37,891.35 488.90,891.89 489.44,892.41 489.97,892.92 490.50,893.39 491.04,893.81 491.57,894.18 492.10,894.49 492.64,894.73 493.17,894.89 493.70,894.97 494.24,894.96 494.77,894.86 495.30,894.67 495.84,894.38 496.37,894.00 496.90,893.53 497.44,892.98 497.97,892.34 498.50,891.63 499.04,890.85 499.57,890.02 500.10,889.13 500.64,888.21 501.17,887.26 501.70,886.30 502.24,885.33 502.77,884.37 503.30,883.43 503.84,882.53 504.37,881.66 504.90,880.86 505.44,880.11 505.97,879.44 506.50,878.85 507.04,878.34 507.57,877.93 508.10,877.61 508.64,877.39 509.17,877.27 509.70,877.25 510.24,877.32 510.77,877.48 511.30,877.73 511.84,878.06 512.37,878.46 512.90,878.92 513.44,879.43 513.97,879.98 514.50,880.56 515.04,881.15 515.57,881.75 516.10,882.34 516.64,882.90 517.17,883.42 517.70,883.90 518.24,884.32 518.77,884.67 519.30,884.93 519.84,885.11 520.37,885.19 520.90,885.18 521.44,885.05 521.97,884.82 522.50,884.47 523.04,884.02 523.57,883.46 524.10,882.80 524.64,882.04 525.17,881.19 525.70,880.26 526.24,879.27 526.77,878.21 527.30,877.10 527.84,875.96 528.37,874.79 528.90,873.62 529.44,872.45 529.97,871.31 530.50,870.20 531.04,869.13 531.57,868.13 532.10,867.19 532.63,866.34 533.17,865.58 533.70,864.92 534.23,864.37 534.77,863.92 535.30,863.59 535.83,863.38 536.37,863.28 536.90,863.29 537.43,863.41 537.97,863.63 538.50,863.94 539.03,864.35 539.57,864.82 540.10,865.36 540.63,865.95 541.17,866.57 541.70,867.21 542.23,867.87 542.77,868.51 543.30,869.13 543.83,869.71 544.37,870.24 544.90,870.70 545.43,871.08 545.97,871.37 546.50,871.56 547.03,871.64 547.57,871.60 548.10,871.43 548.63,871.14 549.17,870.72 549.70,870.18 550.23,869.51 550.77,868.71 551.30,867.80 551.83,866.78 552.37,865.67 552.90,864.47 553.43,863.19 553.97,861.86 554.50,860.48 555.03,859.06 555.57,857.64 556.10,856.22 556.63,854.81 557.17,853.45 557.70,852.13 558.23,850.88 558.77,849.70 559.30,848.63 559.83,847.65 560.37,846.79 560.90,846.05 561.43,845.44 561.97,844.96 562.50,844.61 563.03,844.40 563.57,844.32 564.10,844.36 564.63,844.53 565.17,844.81 565.70,845.19 566.23,845.66 566.77,846.21 567.30,846.82 567.83,847.48 568.37,848.17 568.90,848.87 569.43,849.56 569.97,850.23 570.50,850.86 571.03,851.43 571.57,851.92 572.10,852.33 572.63,852.63 573.17,852.82 573.70,852.88 574.23,852.80 574.77,852.58 575.30,852.21 575.83,852.58 576.37,852.80 576.90,852.88 577.43,852.82 577.97,852.63 578.50,852.33 579.03,851.92 579.57,851.43 580.10,850.86 580.63,850.23 581.17,849.56 581.70,848.87 582.23,848.17 582.77,847.48 583.30,846.82 583.83,846.21 584.37,845.66 584.90,845.19 585.43,844.81 585.97,844.53 586.50,844.36 587.03,844.32 587.57,844.40 588.10,844.61 588.63,844.96 589.17,845.44 589.70,846.05 590.23,846.79 590.77,847.65 591.30,848.63 591.83,849.70 592.37,850.88 592.90,852.13 593.43,853.45 593.97,854.81 594.50,856.22 595.03,857.64 595.57,859.06 596.10,860.48 596.63,861.86 597.17,863.19 597.70,864.47 598.23,865.67 598.77,866.78 599.30,867.80 599.83,868.71 600.37,869.51 600.90,870.18 601.43,870.72 601.97,871.14 602.50,871.43 603.03,871.60 603.57,871.64 604.10,871.56 604.63,871.37 605.17,871.08 605.70,870.70 606.23,870.24 606.77,869.71 607.30,869.13 607.83,868.51 608.37,867.87 608.90,867.21 609.43,866.57 609.97,865.95 610.50,865.36 611.03,864.82 611.57,864.35 612.10,863.94 612.63,863.63 613.17,863.41 613.70,863.29 614.23,863.28 614.77,863.38 615.30,863.59 615.83,863.92 616.37,864.37 616.90,864.92 617.43,865.58 617.96,866.34 618.50,867.19 619.03,868.13 619.56,869.13 620.10,870.20 620.63,871.31 621.16,872.45 621.70,873.62 622.23,874.79 622.76,875.96 623.30,877.10 623.83,878.21 624.36,879.27 624.90,880.26 625.43,881.19 625.96,882.04 626.50,882.80 627.03,883.46 627.56,884.02 628.10,884.47 628.63,884.82 629.16,885.05 629.70,885.18 630.23,885.19 630.76,885.11 631.30,884.93 631.83,884.67 632.36,884.32 632.90,883.90 633.43,883.42 633.96,882.90 634.50,882.34 635.03,881.75 635.56,881.15 636.10,880.56 636.63,879.98 637.16,879.43 637.70,878.92 638.23,878.46 638.76,878.06 639.30,877.73 639.83,877.48 640.36,877.32 640.90,877.25 641.43,877.27 641.96,877.39 642.50,877.61 643.03,877.93 643.56,878.34 644.10,878.85 644.63,879.44 645.16,880.11 645.70,880.86 646.23,881.66 646.76,882.53 647.30,883.43 647.83,884.37 648.36,885.33 648.90,886.30 649.43,887.26 649.96,888.21 650.50,889.13 651.03,890.02 651.56,890.85 652.10,891.63 652.63,892.34 653.16,892.98 653.70,893.53 654.23,894.00 654.76,894.38 655.30,894.67 655.83,894.86 656.36,894.96 656.90,894.97 657.43,894.89 657.96,894.73 658.50,894.49 659.03,894.18 659.56,893.81 660.10,893.39 660.63,892.92 661.16,892.41 661.70,891.89 662.23,891.35 662.76,890.81 663.30,890.28 663.83,889.78 664.36,889.30 664.90,888.87 665.43,888.49 665.96,888.16 666.50,887.90 667.03,887.71 667.56,887.60 668.10,887.58 668.63,887.63 669.16,887.77 669.70,887.99 670.23,888.30 670.76,888.68 671.30,889.14 671.83,889.67 672.36,890.27 672.90,890.92 673.43,891.62 673.96,892.36 674.50,893.13 675.03,893.92 675.56,894.72 676.10,895.52 676.63,896.31 677.16,897.08 677.70,897.82 678.23,898.52 678.76,899.18 679.30,899.78 679.83,900.32 680.36,900.79 680.90,901.18 681.43,901.50 681.96,901.75 682.50,901.91 683.03,902.00 683.56,902.00 684.10,901.93 684.63,901.79 685.16,901.58 685.70,901.31 686.23,900.98 686.76,900.61 687.30,900.19 687.83,899.75 688.36,899.28 688.90,898.80 689.43,898.32 689.96,897.85 690.50,897.39 691.03,896.95 691.56,896.55 692.10,896.19 692.63,895.88 693.16,895.62 693.70,895.42 694.23,895.29 694.76,895.23 695.30,895.24 695.83,895.32 696.36,895.47 696.90,895.69 697.43,895.98 697.96,896.34 698.50,896.76 699.03,897.23 699.56,897.76 700.10,898.33 700.63,898.93 701.16,899.57 701.70,900.22 702.23,900.89 702.76,901.55 703.29,902.21 703.83,902.86 704.36,903.48 704.89,904.08 705.43,904.63 705.96,905.14 706.49,905.59 707.03,905.99 707.56,906.33 708.09,906.61 708.63,906.82 709.16,906.96 709.69,907.03 710.23,907.04 710.76,906.98 711.29,906.86 711.83,906.68 712.36,906.44 712.89,906.16 713.43,905.83 713.96,905.47 714.49,905.08 715.03,904.67 715.56,904.25 716.09,903.82 716.63,903.40 717.16,902.99 717.69,902.59 718.23,902.23 718.76,901.89 719.29,901.60 719.83,901.35 720.36,901.16 720.89,901.01 721.43,900.93 721.96,900.90 722.49,900.94 723.03,901.04 723.56,901.20 724.09,901.42 724.63,901.70 725.16,902.03 725.69,902.41 726.23,902.83 726.76,903.30 727.29,903.79 727.83,904.31 728.36,904.86 728.89,905.41 729.43,905.97 729.96,906.52 730.49,907.06 731.03,907.59 731.56,908.09 732.09,908.56 732.63,908.99 733.16,909.38 733.69,909.72 734.23,910.01 734.76,910.25 735.29,910.43 735.83,910.56 736.36,910.62 736.89,910.63 737.43,910.58 737.96,910.48 738.49,910.33 739.03,910.13 739.56,909.88 740.09,909.60 740.63,909.29 741.16,908.95 741.69,908.59 742.23,908.22 742.76,907.85 743.29,907.47 743.83,907.10 744.36,906.75 744.89,906.42 745.43,906.12 745.96,905.85 746.49,905.61 747.03,905.42 747.56,905.28 748.09,905.18 748.63,905.14 749.16,905.14 749.69,905.20 750.23,905.32 750.76,905.48 751.29,905.69 751.83,905.95 752.36,906.26 752.89,906.60 753.43,906.98 753.96,907.39 754.49,907.82 755.03,908.27 755.56,908.73 756.09,909.19 756.63,909.66 757.16,910.12 757.69,910.56 758.23,910.98 758.76,911.38 759.29,911.75 759.83,912.09 760.36,912.38 760.89,912.63 761.43,912.84 761.96,913.00 762.49,913.11 763.03,913.17 763.56,913.18 764.09,913.14 764.63,913.06 765.16,912.93 765.69,912.76 766.23,912.55 766.76,912.31 767.29,912.04 767.83,911.75 768.36,911.44 768.89,911.12 769.43,910.79 769.96,910.46 770.49,910.14 771.03,909.82 771.56,909.53 772.09,909.25 772.63,909.00 773.16,908.79 773.69,908.61 774.23,908.47 774.76,908.36 775.29,908.31 775.83,908.29 776.36,908.32 776.89,908.40 777.43,908.52 777.96,908.69 778.49,908.89 779.03,909.13 779.56,909.41 780.09,909.72 780.63,910.05 781.16,910.41 781.69,910.78 782.23,911.17 782.76,911.56 783.29,911.95 783.83,912.34 784.36,912.71 784.89,913.07 785.43,913.41 785.96,913.73 786.49,914.02 787.03,914.27 787.56,914.49 788.09,914.67 788.62,914.81 789.16,914.91 789.69,914.96 790.22,914.98 790.76,914.95 791.29,914.88 791.82,914.78 792.36,914.63 792.89,914.46 793.42,914.25 793.96,914.02 794.49,913.77 795.02,913.50 795.56,913.23 796.09,912.94 796.62,912.65 797.16,912.37 797.69,912.09 798.22,911.83 798.76,911.58 799.29,911.36 799.82,911.16 800.36,910.99 800.89,910.85 801.42,910.75 801.96,910.69 802.49,910.66 803.02,910.67 803.56,910.72 804.09,910.81 804.62,910.93 805.16,911.09 805.69,911.29 806.22,911.51 806.76,911.76 807.29,912.04 807.82,912.33 808.36,912.64 808.89,912.96 809.42,913.29 809.96,913.62 810.49,913.95 811.02,914.27 811.56,914.57 812.09,914.87 812.62,915.14 813.16,915.38 813.69,915.60 814.22,915.79 814.76,915.95 815.29,916.08 815.82,916.17 816.36,916.22 816.89,916.23 817.42,916.22 817.96,916.16 818.49,916.08 819.02,915.96 819.56,915.81 820.09,915.64 820.62,915.44 821.16,915.23 821.69,915.00 822.22,914.75 822.76,914.51 823.29,914.26 823.82,914.01 824.36,913.76 824.89,913.53 825.42,913.31 825.96,913.11 826.49,912.93 827.02,912.78 827.56,912.65 828.09,912.55 828.62,912.48 829.16,912.44 829.69,912.44 830.22,912.47 830.76,912.53 831.29,912.63 831.82,912.75 832.36,912.91 832.89,913.09 833.42,913.29 833.96,913.52 834.49,913.76 835.02,914.02 835.56,914.29 836.09,914.57 836.62,914.84 837.16,915.12 837.69,915.39 838.22,915.65 838.76,915.90 839.29,916.14 839.82,916.35 840.36,916.54 840.89,916.71 841.42,916.84 841.96,916.95 842.49,917.04 843.02,917.09 843.56,917.10 844.09,917.09 844.62,917.05 845.16,916.98 845.69,916.88 846.22,916.76 846.76,916.61 847.29,916.45 847.82,916.27 848.36,916.07 848.89,915.86 849.42,915.65 849.96,915.43 850.49,915.21 851.02,915.00 851.56,914.80 852.09,914.60 852.62,914.42 853.16,914.26 853.69,914.12 854.22,914.00 854.76,913.91 855.29,913.84 855.82,913.80 856.36,913.78 856.89,913.80 857.42,913.84 857.96,913.91 858.49,914.01 859.02,914.13 859.56,914.28 860.09,914.45 860.62,914.63 861.16,914.83 861.69,915.05 862.22,915.27 862.76,915.50 863.29,915.74 863.82,915.97 864.36,916.20 864.89,916.43 865.42,916.64 865.96,916.84 866.49,917.02 867.02,917.19 867.56,917.34 868.09,917.46 868.62,917.56 869.16,917.63 869.69,917.68 870.22,917.70 870.76,917.69 871.29,917.66 871.82,917.60 872.36,917.52 872.89,917.42 873.42,917.30 873.95,917.16 874.49,917.01 875.02,916.84 875.55,916.66 876.09,916.48 876.62,916.29 877.15,916.10 877.69,915.92 878.22,915.74 878.75,915.57 879.29,915.41 879.82,915.26 880.35,915.13 880.89,915.03 881.42,914.94 881.95,914.87 882.49,914.83 883.02,914.81 883.55,914.81 884.09,914.84 884.62,914.89 885.15,914.97 885.69,915.06 886.22,915.18 886.75,915.32 887.29,915.47 887.82,915.64 888.35,915.81 888.89,916.00 889.42,916.20 889.95,916.39 890.49,916.59 891.02,916.79 891.55,916.98 892.09,917.16 892.62,917.34 893.15,917.50 893.69,917.64 894.22,917.77 894.75,917.87 895.29,917.96 895.82,918.03 896.35,918.07 896.89,918.09 897.42,918.09 897.95,918.07 898.49,918.03 899.02,917.96 899.55,917.88 900.09,917.78 900.62,917.66 901.15,917.53 901.69,917.39 902.22,917.23 902.75,917.08 903.29,916.91 903.82,916.75 904.35,916.59 904.89,916.43 905.42,916.28 905.95,916.14 906.49,916.02 907.02,915.90 907.55,915.80 908.09,915.72 908.62,915.66 909.15,915.61 909.69,915.59 910.22,915.58 910.75,915.60 911.29,915.64 911.82,915.70 912.35,915.77 912.89,915.87 913.42,915.98 913.95,916.10 914.49,916.24 915.02,916.39 915.55,916.55 916.09,916.71 916.62,916.88 917.15,917.05 917.69,917.21 918.22,917.38 918.75,917.53 919.29,917.68 919.82,917.82 920.35,917.94 920.89,918.06 921.42,918.15 921.95,918.23 922.49,918.29 923.02,918.33 923.55,918.35 924.09,918.36 924.62,918.34 925.15,918.31 925.69,918.25 926.22,918.19 926.75,918.10 927.29,918.00 927.82,917.89 928.35,917.77 928.89,917.64 929.42,917.51 929.95,917.37 930.49,917.23 931.02,917.09 931.55,916.95 932.09,916.82 932.62,916.70 933.15,916.59 933.69,916.48 934.22,916.39 934.75,916.32 935.29,916.26 935.82,916.21 936.35,916.19 936.89,916.18 937.42,916.19 937.95,916.21 938.49,916.26 939.02,916.32 939.55,916.39 940.09,916.48 940.62,916.59 941.15,916.70 941.69,916.82 942.22,916.96 942.75,917.09 943.29,917.23 943.82,917.38 944.35,917.52 944.89,917.66 945.42,917.79 945.95,917.92 946.49,918.04 947.02,918.15 947.55,918.25 948.09,918.33 948.62,918.40 949.15,918.46 949.69,918.49 950.22,918.52 950.75,918.52 951.29,918.51 951.82,918.49 952.35,918.44 952.89,918.39 953.42,918.32 953.95,918.24 954.49,918.14 955.02,918.04 955.55,917.93 956.09,917.82 956.62,917.70 957.15,917.58 957.69,917.46 958.22,917.34 958.75,917.23 959.28,917.12 959.82,917.02 960.35,916.93 960.88,916.84 961.42,916.78 961.95,916.72 962.48,916.68 963.02,916.65 963.55,916.64 964.08,916.64 964.62,916.66 965.15,916.69 965.68,916.74 966.22,916.80 966.75,916.87 967.28,916.96 967.82,917.05 968.35,917.15 968.88,917.26 969.42,917.38 969.95,917.50 970.48,917.62 971.02,917.74 971.55,917.86 972.08,917.97 972.62,918.08 973.15,918.19 973.68,918.28 974.22,918.37 974.75,918.44 975.28,918.51 975.82,918.55 976.35,918.59 976.88,918.61 977.42,918.62 977.95,918.62 978.48,918.60 979.02,918.56 979.55,918.52 980.08,918.46 980.62,918.39 981.15,918.31 981.68,918.23 982.22,918.14 982.75,918.04 983.28,917.94 983.82,917.83 984.35,917.73 984.88,917.63 985.42,917.53 985.95,917.43 986.48,917.34 987.02,917.26 987.55,917.19 988.08,917.13 988.62,917.08 989.15,917.04 989.68,917.01 990.22,917.00 990.75,916.99 991.28,917.01 991.82,917.03 992.35,917.07 992.88,917.11 993.42,917.17 993.95,917.24 994.48,917.32 995.02,917.41 995.55,917.50 996.08,917.59 996.62,917.69 997.15,917.80 997.68,917.90 998.22,918.00 998.75,918.10 999.28,918.20 999.82,918.29 1000.35,918.37 1000.88,918.44 1001.42,918.51 1001.95,918.56"/>
<polyline fill="none" stroke="#275c38" stroke-width="4.85" stroke-linejoin="miter" stroke-linecap="square" points="148.65,1156.80 150.78,1156.78 152.92,1156.76 155.05,1156.74 157.18,1156.72 159.32,1156.70 161.45,1156.67 163.58,1156.65 165.72,1156.63 167.85,1156.60 169.98,1156.58 172.12,1156.55 174.25,1156.52 176.38,1156.50 178.52,1156.47 180.65,1156.44 182.78,1156.41 184.92,1156.38 187.05,1156.35 189.18,1156.32 191.31,1156.29 193.45,1156.25 195.58,1156.22 197.71,1156.18 199.85,1156.15 201.98,1156.11 204.11,1156.07 206.25,1156.04 208.38,1156.00 210.51,1155.96 212.65,1155.91 214.78,1155.87 216.91,1155.83 219.05,1155.78 221.18,1155.74 223.31,1155.69 225.45,1155.64 227.58,1155.59 229.71,1155.54 231.85,1155.49 233.98,1155.44 236.11,1155.38 238.25,1155.32 240.38,1155.27 242.51,1155.21 244.65,1155.15 246.78,1155.08 248.91,1155.02 251.05,1154.96 253.18,1154.89 255.31,1154.82 257.45,1154.75 259.58,1154.68 261.71,1154.60 263.85,1154.53 265.98,1154.45 268.11,1154.37 270.25,1154.29 272.38,1154.20 274.51,1154.12 276.64,1154.03 278.78,1153.94 280.91,1153.85 283.04,1153.75 285.18,1153.66 287.31,1153.56 289.44,1153.45 291.58,1153.35 293.71,1153.24 295.84,1153.13 297.98,1153.02 300.11,1152.90 302.24,1152.78 304.38,1152.66 306.51,1152.53 308.64,1152.41 310.78,1152.28 312.91,1152.14 315.04,1152.00 317.18,1151.86 319.31,1151.72 321.44,1151.57 323.58,1151.41 325.71,1151.26 327.84,1151.10 329.98,1150.93 332.11,1150.76 334.24,1150.59 336.38,1150.41 338.51,1150.23 340.64,1150.04 342.78,1149.85 344.91,1149.66 347.04,1149.46 349.18,1149.25 351.31,1149.04 353.44,1148.82 355.58,1148.60 357.71,1148.37 359.84,1148.14 361.97,1147.90 364.11,1147.65 366.24,1147.40 368.37,1147.14 370.51,1146.88 372.64,1146.61 374.77,1146.33 376.91,1146.04 379.04,1145.75 381.17,1145.45 383.31,1145.14 385.44,1144.83 387.57,1144.50 389.71,1144.17 391.84,1143.83 393.97,1143.48 396.11,1143.13 398.24,1142.76 400.37,1142.38 402.51,1142.00 404.64,1141.60 406.77,1141.20 408.91,1140.78 411.04,1140.36 413.17,1139.92 415.31,1139.47 417.44,1139.01 419.57,1138.54 421.71,1138.06 423.84,1137.57 425.97,1137.06 428.11,1136.54 430.24,1136.01 432.37,1135.46 434.51,1134.90 436.64,1134.33 438.77,1133.74 440.91,1133.13 443.04,1132.51 445.17,1131.88 447.30,1131.23 449.44,1130.56 451.57,1129.87 453.70,1129.17 455.84,1128.45 457.97,1127.71 460.10,1126.96 462.24,1126.18 464.37,1125.39 466.50,1124.57 468.64,1123.74 470.77,1122.88 472.90,1122.00 475.04,1121.10 477.17,1120.17 479.30,1119.23 481.44,1118.25 483.57,1117.26 485.70,1116.24 487.84,1115.19 489.97,1114.12 492.10,1113.02 494.24,1111.89 496.37,1110.73 498.50,1109.54 500.64,1108.33 502.77,1107.08 504.90,1105.80 507.04,1104.49 509.17,1103.14 511.30,1101.77 513.44,1100.35 515.57,1098.90 517.70,1097.42 519.84,1095.89 521.97,1094.33 524.10,1092.73 526.24,1091.09 528.37,1089.40 530.50,1087.68 532.63,1085.91 534.77,1084.09 536.90,1082.23 539.03,1080.32 541.17,1078.37 543.30,1076.36 545.43,1074.31 547.57,1072.20 549.70,1070.04 551.83,1067.82 553.97,1065.55 556.10,1063.22 558.23,1060.83 560.37,1058.38 562.50,1055.86 564.63,1053.29 566.77,1050.65 568.90,1047.94 571.03,1045.16 573.17,1042.32 575.30,1039.65 577.43,1042.32 579.57,1045.16 581.70,1047.94 583.83,1050.65 585.97,1053.29 588.10,1055.86 590.23,1058.38 592.37,1060.83 594.50,1063.22 596.63,1065.55 598.77,1067.82 600.90,1070.04 603.03,1072.20 605.17,1074.31 607.30,1076.36 609.43,1078.37 611.57,1080.32 613.70,1082.23 615.83,1084.09 617.96,1085.91 620.10,1087.68 622.23,1089.40 624.36,1091.09 626.50,1092.73 628.63,1094.33 630.76,1095.89 632.90,1097.42 635.03,1098.90 637.16,1100.35 639.30,1101.77 641.43,1103.14 643.56,1104.49 645.70,1105.80 647.83,1107.08 649.96,1108.33 652.10,1109.54 654.23,1110.73 656.36,1111.89 658.50,1113.02 660.63,1114.12 662.76,1115.19 664.90,1116.24 667.03,1117.26 669.16,1118.25 671.30,1119.23 673.43,1120.17 675.56,1121.10 677.70,1122.00 679.83,1122.88 681.96,1123.74 684.10,1124.57 686.23,1125.39 688.36,1126.18 690.50,1126.96 692.63,1127.71 694.76,1128.45 696.90,1129.17 699.03,1129.87 701.16,1130.56 703.29,1131.23 705.43,1131.88 707.56,1132.51 709.69,1133.13 711.83,1133.74 713.96,1134.33 716.09,1134.90 718.23,1135.46 720.36,1136.01 722.49,1136.54 724.63,1137.06 726.76,1137.57 728.89,1138.06 731.03,1138.54 733.16,1139.01 735.29,1139.47 737.43,1139.92 739.56,1140.36 741.69,1140.78 743.83,1141.20 745.96,1141.60 748.09,1142.00 750.23,1142.38 752.36,1142.76 754.49,1143.13 756.63,1143.48 758.76,1143.83 760.89,1144.17 763.03,1144.50 765.16,1144.83 767.29,1145.14 769.43,1145.45 771.56,1145.75 773.69,1146.04 775.83,1146.33 777.96,1146.61 780.09,1146.88 782.23,1147.14 784.36,1147.40 786.49,1147.65 788.62,1147.90 790.76,1148.14 792.89,1148.37 795.02,1148.60 797.16,1148.82 799.29,1149.04 801.42,1149.25 803.56,1149.46 805.69,1149.66 807.82,1149.85 809.96,1150.04 812.09,1150.23 814.22,1150.41 816.36,1150.59 818.49,1150.76 820.62,1150.93 822.76,1151.10 824.89,1151.26 827.02,1151.41 829.16,1151.57 831.29,1151.72 833.42,1151.86 835.56,1152.00 837.69,1152.14 839.82,1152.28 841.96,1152.41 844.09,1152.53 846.22,1152.66 848.36,1152.78 850.49,1152.90 852.62,1153.02 854.76,1153.13 856.89,1153.24 859.02,1153.35 861.16,1153.45 863.29,1153.56 865.42,1153.66 867.56,1153.75 869.69,1153.85 871.82,1153.94 873.95,1154.03 876.09,1154.12 878.22,1154.20 880.35,1154.29 882.49,1154.37 884.62,1154.45 886.75,1154.53 888.89,1154.60 891.02,1154.68 893.15,1154.75 895.29,1154.82 897.42,1154.89 899.55,1154.96 901.69,1155.02 903.82,1155.08 905.95,1155.15 908.09,1155.21 910.22,1155.27 912.35,1155.32 914.49,1155.38 916.62,1155.44 918.75,1155.49 920.89,1155.54 923.02,1155.59 925.15,1155.64 927.29,1155.69 929.42,1155.74 931.55,1155.78 933.69,1155.83 935.82,1155.87 937.95,1155.91 940.09,1155.96 942.22,1156.00 944.35,1156.04 946.49,1156.07 948.62,1156.11 950.75,1156.15 952.89,1156.18 955.02,1156.22 957.15,1156.25 959.28,1156.29 961.42,1156.32 963.55,1156.35 965.68,1156.38 967.82,1156.41 969.95,1156.44 972.08,1156.47 974.22,1156.50 976.35,1156.52 978.48,1156.55 980.62,1156.58 982.75,1156.60 984.88,1156.63 987.02,1156.65 989.15,1156.67 991.28,1156.70 993.42,1156.72 995.55,1156.74 997.68,1156.76 999.82,1156.78 1001.95,1156.80"/>
<path d="M132.20 215.10h7.90M1018.40 215.10h-8.30M132.20 209.19h4.20M1018.40 209.19h-4.60M132.20 203.28h4.20M1018.40 203.28h-4.60M132.20 197.37h4.20M1018.40 197.37h-4.60M132.20 191.46h4.20M1018.40 191.46h-4.60M132.20 185.55h7.90M1018.40 185.55h-8.30M132.20 179.64h4.20M1018.40 179.64h-4.60M132.20 173.73h4.20M1018.40 173.73h-4.60M132.20 167.82h4.20M1018.40 167.82h-4.60M132.20 161.91h4.20M1018.40 161.91h-4.60M132.20 156.00h7.90M1018.40 156.00h-8.30M132.20 150.09h4.20M1018.40 150.09h-4.60M132.20 144.18h4.20M1018.40 144.18h-4.60M132.20 138.27h4.20M1018.40 138.27h-4.60M132.20 132.36h4.20M1018.40 132.36h-4.60M132.20 126.45h7.90M1018.40 126.45h-8.30M132.20 120.54h4.20M1018.40 120.54h-4.60M132.20 114.63h4.20M1018.40 114.63h-4.60M132.20 108.72h4.20M1018.40 108.72h-4.60M132.20 102.81h4.20M1018.40 102.81h-4.60M132.20 96.90h7.90M1018.40 96.90h-8.30M132.20 90.99h4.20M1018.40 90.99h-4.60M132.20 85.08h4.20M1018.40 85.08h-4.60M132.20 79.17h4.20M1018.40 79.17h-4.60M132.20 73.26h4.20M1018.40 73.26h-4.60M132.20 67.35h7.90M1018.40 67.35h-8.30M132.20 61.44h4.20M1018.40 61.44h-4.60M132.20 55.53h4.20M1018.40 55.53h-4.60M132.20 49.62h4.20M1018.40 49.62h-4.60M132.20 43.71h4.20M1018.40 43.71h-4.60M132.20 37.80h7.90M1018.40 37.80h-8.30M132.20 31.89h4.20M1018.40 31.89h-4.60M132.20 25.98h4.20M1018.40 25.98h-4.60M132.20 20.07h4.20M1018.40 20.07h-4.60M132.20 14.16h4.20M1018.40 14.16h-4.60M132.20 8.25h7.90M1018.40 8.25h-8.30M132.20 449.50h7.90M1018.40 449.50h-8.30M132.20 443.59h4.20M1018.40 443.59h-4.60M132.20 437.68h4.20M1018.40 437.68h-4.60M132.20 431.77h4.20M1018.40 431.77h-4.60M132.20 425.86h4.20M1018.40 425.86h-4.60M132.20 419.95h7.90M1018.40 419.95h-8.30M132.20 414.04h4.20M1018.40 414.04h-4.60M132.20 408.13h4.20M1018.40 408.13h-4.60M132.20 402.22h4.20M1018.40 402.22h-4.60M132.20 396.31h4.20M1018.40 396.31h-4.60M132.20 390.40h7.90M1018.40 390.40h-8.30M132.20 384.49h4.20M1018.40 384.49h-4.60M132.20 378.58h4.20M1018.40 378.58h-4.60M132.20 372.67h4.20M1018.40 372.67h-4.60M132.20 366.76h4.20M1018.40 366.76h-4.60M132.20 360.85h7.90M1018.40 360.85h-8.30M132.20 354.94h4.20M1018.40 354.94h-4.60M132.20 349.03h4.20M1018.40 349.03h-4.60M132.20 343.12h4.20M1018.40 343.12h-4.60M132.20 337.21h4.20M1018.40 337.21h-4.60M132.20 331.30h7.90M1018.40 331.30h-8.30M132.20 325.39h4.20M1018.40 325.39h-4.60M132.20 319.48h4.20M1018.40 319.48h-4.60M132.20 313.57h4.20M1018.40 313.57h-4.60M132.20 307.66h4.20M1018.40 307.66h-4.60M132.20 301.75h7.90M1018.40 301.75h-8.30M132.20 295.84h4.20M1018.40 295.84h-4.60M132.20 289.93h4.20M1018.40 289.93h-4.60M132.20 284.02h4.20M1018.40 284.02h-4.60M132.20 278.11h4.20M1018.40 278.11h-4.60M132.20 272.20h7.90M1018.40 272.20h-8.30M132.20 266.29h4.20M1018.40 266.29h-4.60M132.20 260.38h4.20M1018.40 260.38h-4.60M132.20 254.47h4.20M1018.40 254.47h-4.60M132.20 248.56h4.20M1018.40 248.56h-4.60M132.20 242.65h7.90M1018.40 242.65h-8.30M132.20 684.20h7.90M1018.40 684.20h-8.30M132.20 678.29h4.20M1018.40 678.29h-4.60M132.20 672.38h4.20M1018.40 672.38h-4.60M132.20 666.47h4.20M1018.40 666.47h-4.60M132.20 660.56h4.20M1018.40 660.56h-4.60M132.20 654.65h7.90M1018.40 654.65h-8.30M132.20 648.74h4.20M1018.40 648.74h-4.60M132.20 642.83h4.20M1018.40 642.83h-4.60M132.20 636.92h4.20M1018.40 636.92h-4.60M132.20 631.01h4.20M1018.40 631.01h-4.60M132.20 625.10h7.90M1018.40 625.10h-8.30M132.20 619.19h4.20M1018.40 619.19h-4.60M132.20 613.28h4.20M1018.40 613.28h-4.60M132.20 607.37h4.20M1018.40 607.37h-4.60M132.20 601.46h4.20M1018.40 601.46h-4.60M132.20 595.55h7.90M1018.40 595.55h-8.30M132.20 589.64h4.20M1018.40 589.64h-4.60M132.20 583.73h4.20M1018.40 583.73h-4.60M132.20 577.82h4.20M1018.40 577.82h-4.60M132.20 571.91h4.20M1018.40 571.91h-4.60M132.20 566.00h7.90M1018.40 566.00h-8.30M132.20 560.09h4.20M1018.40 560.09h-4.60M132.20 554.18h4.20M1018.40 554.18h-4.60M132.20 548.27h4.20M1018.40 548.27h-4.60M132.20 542.36h4.20M1018.40 542.36h-4.60M132.20 536.45h7.90M1018.40 536.45h-8.30M132.20 530.54h4.20M1018.40 530.54h-4.60M132.20 524.63h4.20M1018.40 524.63h-4.60M132.20 518.72h4.20M1018.40 518.72h-4.60M132.20 512.81h4.20M1018.40 512.81h-4.60M132.20 506.90h7.90M1018.40 506.90h-8.30M132.20 500.99h4.20M1018.40 500.99h-4.60M132.20 495.08h4.20M1018.40 495.08h-4.60M132.20 489.17h4.20M1018.40 489.17h-4.60M132.20 483.26h4.20M1018.40 483.26h-4.60M132.20 477.35h7.90M1018.40 477.35h-8.30M132.20 918.70h7.90M1018.40 918.70h-8.30M132.20 912.79h4.20M1018.40 912.79h-4.60M132.20 906.88h4.20M1018.40 906.88h-4.60M132.20 900.97h4.20M1018.40 900.97h-4.60M132.20 895.06h4.20M1018.40 895.06h-4.60M132.20 889.15h7.90M1018.40 889.15h-8.30M132.20 883.24h4.20M1018.40 883.24h-4.60M132.20 877.33h4.20M1018.40 877.33h-4.60M132.20 871.42h4.20M1018.40 871.42h-4.60M132.20 865.51h4.20M1018.40 865.51h-4.60M132.20 859.60h7.90M1018.40 859.60h-8.30M132.20 853.69h4.20M1018.40 853.69h-4.60M132.20 847.78h4.20M1018.40 847.78h-4.60M132.20 841.87h4.20M1018.40 841.87h-4.60M132.20 835.96h4.20M1018.40 835.96h-4.60M132.20 830.05h7.90M1018.40 830.05h-8.30M132.20 824.14h4.20M1018.40 824.14h-4.60M132.20 818.23h4.20M1018.40 818.23h-4.60M132.20 812.32h4.20M1018.40 812.32h-4.60M132.20 806.41h4.20M1018.40 806.41h-4.60M132.20 800.50h7.90M1018.40 800.50h-8.30M132.20 794.59h4.20M1018.40 794.59h-4.60M132.20 788.68h4.20M1018.40 788.68h-4.60M132.20 782.77h4.20M1018.40 782.77h-4.60M132.20 776.86h4.20M1018.40 776.86h-4.60M132.20 770.95h7.90M1018.40 770.95h-8.30M132.20 765.04h4.20M1018.40 765.04h-4.60M132.20 759.13h4.20M1018.40 759.13h-4.60M132.20 753.22h4.20M1018.40 753.22h-4.60M132.20 747.31h4.20M1018.40 747.31h-4.60M132.20 741.40h7.90M1018.40 741.40h-8.30M132.20 735.49h4.20M1018.40 735.49h-4.60M132.20 729.58h4.20M1018.40 729.58h-4.60M132.20 723.67h4.20M1018.40 723.67h-4.60M132.20 717.76h4.20M1018.40 717.76h-4.60M132.20 711.85h7.90M1018.40 711.85h-8.30M132.20 1157.60h7.90M1018.40 1157.60h-8.30M132.20 1151.69h4.20M1018.40 1151.69h-4.60M132.20 1145.78h4.20M1018.40 1145.78h-4.60M132.20 1139.87h4.20M1018.40 1139.87h-4.60M132.20 1133.96h4.20M1018.40 1133.96h-4.60M132.20 1128.05h7.90M1018.40 1128.05h-8.30M132.20 1122.14h4.20M1018.40 1122.14h-4.60M132.20 1116.23h4.20M1018.40 1116.23h-4.60M132.20 1110.32h4.20M1018.40 1110.32h-4.60M132.20 1104.41h4.20M1018.40 1104.41h-4.60M132.20 1098.50h7.90M1018.40 1098.50h-8.30M132.20 1092.59h4.20M1018.40 1092.59h-4.60M132.20 1086.68h4.20M1018.40 1086.68h-4.60M132.20 1080.77h4.20M1018.40 1080.77h-4.60M132.20 1074.86h4.20M1018.40 1074.86h-4.60M132.20 1068.95h7.90M1018.40 1068.95h-8.30M132.20 1063.04h4.20M1018.40 1063.04h-4.60M132.20 1057.13h4.20M1018.40 1057.13h-4.60M132.20 1051.22h4.20M1018.40 1051.22h-4.60M132.20 1045.31h4.20M1018.40 1045.31h-4.60M132.20 1039.40h7.90M1018.40 1039.40h-8.30M132.20 1033.49h4.20M1018.40 1033.49h-4.60M132.20 1027.58h4.20M1018.40 1027.58h-4.60M132.20 1021.67h4.20M1018.40 1021.67h-4.60M132.20 1015.76h4.20M1018.40 1015.76h-4.60M132.20 1009.85h7.90M1018.40 1009.85h-8.30M132.20 1003.94h4.20M1018.40 1003.94h-4.60M132.20 998.03h4.20M1018.40 998.03h-4.60M132.20 992.12h4.20M1018.40 992.12h-4.60M132.20 986.21h4.20M1018.40 986.21h-4.60M132.20 980.30h7.90M1018.40 980.30h-8.30M132.20 974.39h4.20M1018.40 974.39h-4.60M132.20 968.48h4.20M1018.40 968.48h-4.60M132.20 962.57h4.20M1018.40 962.57h-4.60M132.20 956.66h4.20M1018.40 956.66h-4.60M132.20 950.75h7.90M1018.40 950.75h-8.30" stroke="#000" stroke-width="3.1" fill="none"/>
<path d="M148.65 3.60v3.40M191.31 3.60v3.40M233.98 3.60v6.95M276.64 3.60v3.40M319.31 3.60v3.40M361.97 3.60v3.40M404.64 3.60v6.95M447.30 3.60v3.40M489.97 3.60v3.40M532.63 3.60v3.40M575.30 3.60v6.95M617.96 3.60v3.40M660.63 3.60v3.40M703.29 3.60v3.40M745.96 3.60v6.95M788.62 3.60v3.40M831.29 3.60v3.40M873.95 3.60v3.40M916.62 3.60v6.95M959.28 3.60v3.40M1001.95 3.60v3.40" stroke="#000" stroke-width="4.4" fill="none"/>
<path d="M148.65 1161.90v-2.30M191.31 1161.90v-2.30M233.98 1161.90v-4.90M276.64 1161.90v-2.30M319.31 1161.90v-2.30M361.97 1161.90v-2.30M404.64 1161.90v-4.90M447.30 1161.90v-2.30M489.97 1161.90v-2.30M532.63 1161.90v-2.30M575.30 1161.90v-4.90M617.96 1161.90v-2.30M660.63 1161.90v-2.30M703.29 1161.90v-2.30M745.96 1161.90v-4.90M788.62 1161.90v-2.30M831.29 1161.90v-2.30M873.95 1161.90v-2.30M916.62 1161.90v-4.90M959.28 1161.90v-2.30M1001.95 1161.90v-2.30" stroke="#000" stroke-width="3.6" fill="none"/>
<rect x="130.6" y="2.0" width="889.4" height="1161.5" fill="none" stroke="#000" stroke-width="4.2"/>
<g font-family="'Liberation Serif', serif" font-size="38.4" text-anchor="end" fill="#000">
<text x="117.2" y="51.05">6</text>
<text x="116.6" y="109.95">4</text>
<text x="119.2" y="169.05">2</text>
<text x="119.4" y="227.55">0</text>
<text x="117.2" y="285.45">6</text>
<text x="116.6" y="344.35">4</text>
<text x="119.2" y="403.45">2</text>
<text x="119.4" y="461.95">0</text>
<text x="117.2" y="520.15">6</text>
<text x="116.6" y="579.05">4</text>
<text x="119.2" y="638.15">2</text>
<text x="119.4" y="696.65">0</text>
<text x="117.2" y="754.65">6</text>
<text x="116.6" y="813.55">4</text>
<text x="119.2" y="872.65">2</text>
<text x="119.4" y="931.15">0</text>
<text x="117.2" y="993.55">6</text>
<text x="116.6" y="1052.45">4</text>
<text x="119.2" y="1111.55">2</text>
<text x="119.4" y="1170.05">0</text>
</g>
<g font-family="'Liberation Serif', serif" font-size="42.3" fill="#000">
<text transform="translate(211.84,1207.31) scale(1.1741,1.4390)" font-family="'Liberation Serif', serif" font-size="40">-</text>
<text x="236.08" y="1205.1">4</text>
<text transform="translate(382.50,1207.31) scale(1.1741,1.4390)" font-family="'Liberation Serif', serif" font-size="40">-</text>
<text x="405.84" y="1205.1">2</text>
<text x="574.30" y="1205.1" text-anchor="middle">0</text>
<text x="744.96" y="1205.1" text-anchor="middle">2</text>
<text x="915.62" y="1205.1" text-anchor="middle">4</text>
</g>
<g fill="#62c47c">
<text transform="translate(146.94,48.67) scale(0.8626,0.7864) skewX(-14)" font-family="'DejaVu Math TeX Gyre', 'DejaVu Sans', serif" font-size="40">ℱ</text>
<text transform="translate(189.18,51.29) scale(1.2625,0.8500)" font-family="'Liberation Serif', serif" font-size="40">=</text>
<text x="225.5" y="48.9" font-family="'Liberation Serif', serif" font-size="35">0</text>
</g>
<g fill="#48bf68">
<text transform="translate(146.94,264.97) scale(0.8626,0.7864) skewX(-14)" font-family="'DejaVu Math TeX Gyre', 'DejaVu Sans', serif" font-size="40">ℱ</text>
<text transform="translate(189.18,267.59) scale(1.2625,0.8500)" font-family="'Liberation Serif', serif" font-size="40">=</text>
<text x="225.5 242.8 251.8 268.3" y="265.2" font-family="'Liberation Serif', serif" font-size="35">0.25</text>
</g>
<g fill="#429a5c">
<text transform="translate(146.94,500.17) scale(0.8626,0.7864) skewX(-14)" font-family="'DejaVu Math TeX Gyre', 'DejaVu Sans', serif" font-size="40">ℱ</text>
<text transform="translate(189.18,502.79) scale(1.2625,0.8500)" font-family="'Liberation Serif', serif" font-size="40">=</text>
<text x="225.5 242.8 251.8" y="500.4" font-family="'Liberation Serif', serif" font-size="35">0.5</text>
</g>
<g fill="#2e7747">
<text transform="translate(146.94,733.57) scale(0.8626,0.7864) skewX(-14)" font-family="'DejaVu Math TeX Gyre', 'DejaVu Sans', serif" font-size="40">ℱ</text>
<text transform="translate(189.18,736.19) scale(1.2625,0.8500)" font-family="'Liberation Serif', serif" font-size="40">=</text>
<text x="225.5 242.8 251.8 268.3" y="733.8" font-family="'Liberation Serif', serif" font-size="35">0.75</text>
</g>
<g fill="#275c38">
<text transform="translate(146.94,974.67) scale(0.8626,0.7864) skewX(-14)" font-family="'DejaVu Math TeX Gyre', 'DejaVu Sans', serif" font-size="40">ℱ</text>
<text transform="translate(189.18,977.29) scale(1.2625,0.8500)" font-family="'Liberation Serif', serif" font-size="40">=</text>
<text x="225.5" y="974.9" font-family="'Liberation Serif', serif" font-size="35">1</text>
</g>
<g fill="#429a5c">
<text transform="translate(918.25,510.32) scale(1.4383,1.3813)" font-family="'Liberation Serif', serif" font-size="40" stroke="#fff" stroke-width="0.362">×</text>
<text x="951.5 971.8" y="502.7" font-family="'Liberation Serif', serif" font-size="41.6">10</text></g>
<g fill="#2e7747">
<text transform="translate(919.50,744.52) scale(1.3276,1.2831)" font-family="'Liberation Serif', serif" font-size="40" stroke="#fff" stroke-width="0.390">×</text>
<text x="950.4 969" y="737.3" font-family="'Liberation Serif', serif" font-size="37.6">10</text>
<text transform="translate(988.17,724.00) scale(0.7546,0.6759)" font-family="'Liberation Serif', serif" font-size="40">2</text>
</g>
<g fill="#275c38">
<text transform="translate(919.50,986.12) scale(1.3276,1.2831)" font-family="'Liberation Serif', serif" font-size="40" stroke="#fff" stroke-width="0.390">×</text>
<text x="950.4 969" y="978.8" font-family="'Liberation Serif', serif" font-size="37.6">10</text>
<text transform="translate(988.41,965.34) scale(0.7137,0.6743)" font-family="'Liberation Serif', serif" font-size="40">8</text>
</g>
<g fill="#000">
<text transform="translate(529.63,1261.14) scale(1.8972,1.5107)" font-family="'Liberation Serif', serif" font-size="40" font-style="italic" stroke="#fff" stroke-width="0.596">γ</text>
<text transform="translate(560.89,1269.30) scale(0.9151,0.8815)" font-family="'DejaVu Serif', serif" font-size="40" font-style="italic">σ</text>
<text transform="translate(592.68,1261.02) scale(1.8432,1.4773)" font-family="'Liberation Serif', serif" font-size="40" font-style="italic" stroke="#fff" stroke-width="0.609">τ</text>
</g>
<g transform="translate(52.0,652.0) rotate(-90)" fill="#000">
<text transform="translate(1.08,-0.05) scale(1.2122,1.1922)" font-family="'Liberation Serif', serif" font-size="40" font-style="italic">g</text>
<text transform="translate(28.26,-25.45) scale(0.8760,0.9457)" font-family="'Liberation Serif', serif" font-size="40" stroke="#fff" stroke-width="0.634">(</text>
<text transform="translate(40.99,-26.10) scale(1.0290,0.8609)" font-family="'Liberation Serif', serif" font-size="40">2</text>
<text transform="translate(62.42,-25.45) scale(0.9150,0.9457)" font-family="'Liberation Serif', serif" font-size="40" stroke="#fff" stroke-width="0.634">)</text>
<text transform="translate(24.52,14.38) scale(0.7865,0.7361)" font-family="'DejaVu Serif', serif" font-size="40" font-style="italic">σ</text>
<text transform="translate(48.57,14.51) scale(0.8058,1.0707)" font-family="'Liberation Serif', serif" font-size="40">,</text>
<text transform="translate(51.38,14.96) scale(0.9440,0.8056) skewX(-14)" font-family="'DejaVu Math TeX Gyre', 'DejaVu Sans', serif" font-size="40">ℱ</text>
<text transform="translate(94.91,0.44) scale(1.1875,1.3813)" font-family="'Liberation Serif', serif" font-size="40" stroke="#fff" stroke-width="0.434">(</text>
<text transform="translate(112.00,0.30) scale(1.2446,1.2744)" font-family="'Liberation Serif', serif" font-size="40">0</text>
<text transform="translate(137.38,0.44) scale(1.1778,1.3813)" font-family="'Liberation Serif', serif" font-size="40" stroke="#fff" stroke-width="0.434">)</text>
</g>
</svg>
</body></html>
